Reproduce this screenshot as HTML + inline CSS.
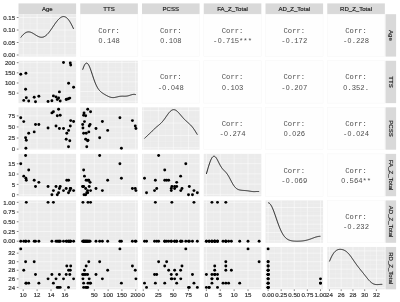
<!DOCTYPE html>
<html><head><meta charset="utf-8"><title>ggpairs</title>
<style>html,body{margin:0;padding:0;background:#fff}svg{display:block;filter:blur(0.3px)}</style>
</head><body>
<svg width="400" height="302" viewBox="0 0 400 302">
<rect width="400" height="302" fill="#fff"/>
<rect x="18.50" y="3.4" width="57.6" height="10.80" fill="#d9d9d9"/>
<text x="47.30" y="10.80" font-size="6.05" fill="#111" text-anchor="middle" font-family="Liberation Sans, Arial, sans-serif" stroke="#333" stroke-width="0.18">Age</text>
<rect x="80.25" y="3.4" width="57.6" height="10.80" fill="#d9d9d9"/>
<text x="109.05" y="10.80" font-size="6.05" fill="#111" text-anchor="middle" font-family="Liberation Sans, Arial, sans-serif" stroke="#333" stroke-width="0.18">TTS</text>
<rect x="142.00" y="3.4" width="57.6" height="10.80" fill="#d9d9d9"/>
<text x="170.80" y="10.80" font-size="6.05" fill="#111" text-anchor="middle" font-family="Liberation Sans, Arial, sans-serif" stroke="#333" stroke-width="0.18">PCSS</text>
<rect x="203.75" y="3.4" width="57.6" height="10.80" fill="#d9d9d9"/>
<text x="232.55" y="10.80" font-size="6.05" fill="#111" text-anchor="middle" font-family="Liberation Sans, Arial, sans-serif" stroke="#333" stroke-width="0.18">FA_Z_Total</text>
<rect x="265.50" y="3.4" width="57.6" height="10.80" fill="#d9d9d9"/>
<text x="294.30" y="10.80" font-size="6.05" fill="#111" text-anchor="middle" font-family="Liberation Sans, Arial, sans-serif" stroke="#333" stroke-width="0.18">AD_Z_Total</text>
<rect x="327.25" y="3.4" width="57.6" height="10.80" fill="#d9d9d9"/>
<text x="356.05" y="10.80" font-size="6.05" fill="#111" text-anchor="middle" font-family="Liberation Sans, Arial, sans-serif" stroke="#333" stroke-width="0.18">RD_Z_Total</text>
<rect x="385.5" y="14.20" width="10.60" height="42.4" fill="#d9d9d9"/>
<text transform="translate(388.80,35.40) rotate(90)" font-size="6.05" fill="#111" text-anchor="middle" font-family="Liberation Sans, Arial, sans-serif" stroke="#333" stroke-width="0.18">Age</text>
<rect x="385.5" y="60.75" width="10.60" height="42.4" fill="#d9d9d9"/>
<text transform="translate(388.80,81.95) rotate(90)" font-size="6.05" fill="#111" text-anchor="middle" font-family="Liberation Sans, Arial, sans-serif" stroke="#333" stroke-width="0.18">TTS</text>
<rect x="385.5" y="107.30" width="10.60" height="42.4" fill="#d9d9d9"/>
<text transform="translate(388.80,128.50) rotate(90)" font-size="6.05" fill="#111" text-anchor="middle" font-family="Liberation Sans, Arial, sans-serif" stroke="#333" stroke-width="0.18">PCSS</text>
<rect x="385.5" y="153.85" width="10.60" height="42.4" fill="#d9d9d9"/>
<text transform="translate(388.80,175.05) rotate(90)" font-size="6.05" fill="#111" text-anchor="middle" font-family="Liberation Sans, Arial, sans-serif" stroke="#333" stroke-width="0.18">FA_Z_Total</text>
<rect x="385.5" y="200.40" width="10.60" height="42.4" fill="#d9d9d9"/>
<text transform="translate(388.80,221.60) rotate(90)" font-size="6.05" fill="#111" text-anchor="middle" font-family="Liberation Sans, Arial, sans-serif" stroke="#333" stroke-width="0.18">AD_Z_Total</text>
<rect x="385.5" y="246.95" width="10.60" height="42.4" fill="#d9d9d9"/>
<text transform="translate(388.80,268.15) rotate(90)" font-size="6.05" fill="#111" text-anchor="middle" font-family="Liberation Sans, Arial, sans-serif" stroke="#333" stroke-width="0.18">RD_Z_Total</text>
<rect x="18.50" y="14.20" width="57.6" height="42.4" fill="#ebebeb"/>
<line x1="30.17" x2="30.17" y1="14.20" y2="56.60" stroke="#f5f5f5" stroke-width="0.3"/>
<line x1="44.07" x2="44.07" y1="14.20" y2="56.60" stroke="#f5f5f5" stroke-width="0.3"/>
<line x1="57.97" x2="57.97" y1="14.20" y2="56.60" stroke="#f5f5f5" stroke-width="0.3"/>
<line x1="71.86" x2="71.86" y1="14.20" y2="56.60" stroke="#f5f5f5" stroke-width="0.3"/>
<line x1="23.22" x2="23.22" y1="14.20" y2="56.60" stroke="#fff" stroke-width="0.5"/>
<line x1="37.12" x2="37.12" y1="14.20" y2="56.60" stroke="#fff" stroke-width="0.5"/>
<line x1="51.02" x2="51.02" y1="14.20" y2="56.60" stroke="#fff" stroke-width="0.5"/>
<line x1="64.91" x2="64.91" y1="14.20" y2="56.60" stroke="#fff" stroke-width="0.5"/>
<line x1="18.50" x2="76.10" y1="48.75" y2="48.75" stroke="#f5f5f5" stroke-width="0.3"/>
<line x1="18.50" x2="76.10" y1="36.25" y2="36.25" stroke="#f5f5f5" stroke-width="0.3"/>
<line x1="18.50" x2="76.10" y1="23.75" y2="23.75" stroke="#f5f5f5" stroke-width="0.3"/>
<line x1="18.50" x2="76.10" y1="55.00" y2="55.00" stroke="#fff" stroke-width="0.5"/>
<line x1="18.50" x2="76.10" y1="42.50" y2="42.50" stroke="#fff" stroke-width="0.5"/>
<line x1="18.50" x2="76.10" y1="30.00" y2="30.00" stroke="#fff" stroke-width="0.5"/>
<line x1="18.50" x2="76.10" y1="17.50" y2="17.50" stroke="#fff" stroke-width="0.5"/>
<polyline points="20.75,37.50 21.02,37.16 21.28,36.82 21.55,36.48 21.81,36.16 22.08,35.85 22.34,35.54 22.61,35.24 22.87,34.96 23.14,34.68 23.41,34.42 23.67,34.17 23.94,33.93 24.20,33.70 24.47,33.49 24.73,33.28 25.00,33.10 25.26,32.92 25.53,32.76 25.80,32.61 26.06,32.48 26.33,32.35 26.59,32.25 26.86,32.15 27.12,32.08 27.39,32.01 27.66,31.96 27.92,31.92 28.19,31.89 28.45,31.88 28.72,31.88 28.98,31.90 29.25,31.92 29.51,31.96 29.78,32.01 30.05,32.07 30.31,32.14 30.58,32.22 30.84,32.31 31.11,32.41 31.37,32.51 31.64,32.63 31.90,32.75 32.17,32.89 32.44,33.02 32.70,33.17 32.97,33.32 33.23,33.47 33.50,33.63 33.76,33.79 34.03,33.95 34.29,34.12 34.56,34.29 34.83,34.46 35.09,34.63 35.36,34.80 35.62,34.97 35.89,35.13 36.15,35.30 36.42,35.46 36.68,35.62 36.95,35.77 37.22,35.92 37.48,36.07 37.75,36.21 38.01,36.34 38.28,36.47 38.54,36.59 38.81,36.70 39.07,36.80 39.34,36.90 39.61,36.98 39.87,37.06 40.14,37.12 40.40,37.18 40.67,37.22 40.93,37.25 41.20,37.28 41.47,37.29 41.73,37.28 42.00,37.27 42.26,37.24 42.53,37.20 42.79,37.15 43.06,37.08 43.32,37.01 43.59,36.91 43.86,36.81 44.12,36.69 44.39,36.56 44.65,36.42 44.92,36.26 45.18,36.09 45.45,35.90 45.71,35.71 45.98,35.50 46.25,35.28 46.51,35.05 46.78,34.80 47.04,34.55 47.31,34.28 47.57,34.00 47.84,33.72 48.10,33.42 48.37,33.11 48.64,32.79 48.90,32.47 49.17,32.13 49.43,31.79 49.70,31.45 49.96,31.09 50.23,30.73 50.49,30.36 50.76,29.99 51.03,29.61 51.29,29.23 51.56,28.85 51.82,28.46 52.09,28.07 52.35,27.68 52.62,27.29 52.88,26.89 53.15,26.50 53.42,26.11 53.68,25.71 53.95,25.32 54.21,24.94 54.48,24.55 54.74,24.17 55.01,23.79 55.28,23.42 55.54,23.05 55.81,22.68 56.07,22.33 56.34,21.98 56.60,21.63 56.87,21.30 57.13,20.97 57.40,20.65 57.67,20.33 57.93,20.03 58.20,19.74 58.46,19.46 58.73,19.19 58.99,18.92 59.26,18.68 59.52,18.44 59.79,18.21 60.06,18.00 60.32,17.80 60.59,17.62 60.85,17.45 61.12,17.29 61.38,17.15 61.65,17.02 61.91,16.91 62.18,16.81 62.45,16.73 62.71,16.67 62.98,16.62 63.24,16.59 63.51,16.57 63.77,16.58 64.04,16.60 64.30,16.64 64.57,16.70 64.84,16.77 65.10,16.87 65.37,16.98 65.63,17.11 65.90,17.26 66.16,17.43 66.43,17.62 66.69,17.83 66.96,18.05 67.23,18.30 67.49,18.56 67.76,18.84 68.02,19.14 68.29,19.46 68.55,19.79 68.82,20.14 69.09,20.51 69.35,20.90 69.62,21.30 69.88,21.72 70.15,22.15 70.41,22.60 70.68,23.07 70.94,23.55 71.21,24.04 71.48,24.54 71.74,25.06 72.01,25.58 72.27,26.12 72.54,26.67 72.80,27.22 73.07,27.79 73.33,28.36 73.60,28.94" fill="none" stroke="#111" stroke-width="1" stroke-linejoin="round"/>
<rect x="80.25" y="14.20" width="57.6" height="42.4" fill="#fefefe" stroke="#f6f6f6" stroke-width="0.5"/>
<text x="109.05" y="32.90" font-size="7.2" fill="#4d4d4d" text-anchor="middle" font-family="Liberation Mono, Courier New, monospace">Corr:</text>
<text x="100.41 104.73 109.05 113.37 117.69" y="43.10" font-size="7.2" fill="#4d4d4d" text-anchor="middle" font-family="Liberation Mono, Courier New, monospace"><tspan font-family="Liberation Sans, Arial, sans-serif" font-size="7">0</tspan>.148</text>
<rect x="142.00" y="14.20" width="57.6" height="42.4" fill="#fefefe" stroke="#f6f6f6" stroke-width="0.5"/>
<text x="170.80" y="32.90" font-size="7.2" fill="#4d4d4d" text-anchor="middle" font-family="Liberation Mono, Courier New, monospace">Corr:</text>
<text x="162.16 166.48 170.80 175.12 179.44" y="43.10" font-size="7.2" fill="#4d4d4d" text-anchor="middle" font-family="Liberation Mono, Courier New, monospace"><tspan font-family="Liberation Sans, Arial, sans-serif" font-size="7">0</tspan>.1<tspan font-family="Liberation Sans, Arial, sans-serif" font-size="7">0</tspan>8</text>
<rect x="203.75" y="14.20" width="57.6" height="42.4" fill="#fefefe" stroke="#f6f6f6" stroke-width="0.5"/>
<text x="232.55" y="32.90" font-size="7.2" fill="#4d4d4d" text-anchor="middle" font-family="Liberation Mono, Courier New, monospace">Corr:</text>
<text x="215.27 219.59 223.91 228.23 232.55 236.87 241.19 245.51 249.83" y="43.10" font-size="7.2" fill="#4d4d4d" text-anchor="middle" font-family="Liberation Mono, Courier New, monospace">-<tspan font-family="Liberation Sans, Arial, sans-serif" font-size="7">0</tspan>.715***</text>
<rect x="265.50" y="14.20" width="57.6" height="42.4" fill="#fefefe" stroke="#f6f6f6" stroke-width="0.5"/>
<text x="294.30" y="32.90" font-size="7.2" fill="#4d4d4d" text-anchor="middle" font-family="Liberation Mono, Courier New, monospace">Corr:</text>
<text x="283.50 287.82 292.14 296.46 300.78 305.10" y="43.10" font-size="7.2" fill="#4d4d4d" text-anchor="middle" font-family="Liberation Mono, Courier New, monospace">-<tspan font-family="Liberation Sans, Arial, sans-serif" font-size="7">0</tspan>.172</text>
<rect x="327.25" y="14.20" width="57.6" height="42.4" fill="#fefefe" stroke="#f6f6f6" stroke-width="0.5"/>
<text x="356.05" y="32.90" font-size="7.2" fill="#4d4d4d" text-anchor="middle" font-family="Liberation Mono, Courier New, monospace">Corr:</text>
<text x="345.25 349.57 353.89 358.21 362.53 366.85" y="43.10" font-size="7.2" fill="#4d4d4d" text-anchor="middle" font-family="Liberation Mono, Courier New, monospace">-<tspan font-family="Liberation Sans, Arial, sans-serif" font-size="7">0</tspan>.228</text>
<rect x="18.50" y="60.75" width="57.6" height="42.4" fill="#ebebeb"/>
<line x1="30.17" x2="30.17" y1="60.75" y2="103.15" stroke="#f5f5f5" stroke-width="0.3"/>
<line x1="44.07" x2="44.07" y1="60.75" y2="103.15" stroke="#f5f5f5" stroke-width="0.3"/>
<line x1="57.97" x2="57.97" y1="60.75" y2="103.15" stroke="#f5f5f5" stroke-width="0.3"/>
<line x1="71.86" x2="71.86" y1="60.75" y2="103.15" stroke="#f5f5f5" stroke-width="0.3"/>
<line x1="23.22" x2="23.22" y1="60.75" y2="103.15" stroke="#fff" stroke-width="0.5"/>
<line x1="37.12" x2="37.12" y1="60.75" y2="103.15" stroke="#fff" stroke-width="0.5"/>
<line x1="51.02" x2="51.02" y1="60.75" y2="103.15" stroke="#fff" stroke-width="0.5"/>
<line x1="64.91" x2="64.91" y1="60.75" y2="103.15" stroke="#fff" stroke-width="0.5"/>
<line x1="18.50" x2="76.10" y1="98.18" y2="98.18" stroke="#f5f5f5" stroke-width="0.3"/>
<line x1="18.50" x2="76.10" y1="88.04" y2="88.04" stroke="#f5f5f5" stroke-width="0.3"/>
<line x1="18.50" x2="76.10" y1="77.89" y2="77.89" stroke="#f5f5f5" stroke-width="0.3"/>
<line x1="18.50" x2="76.10" y1="67.75" y2="67.75" stroke="#f5f5f5" stroke-width="0.3"/>
<line x1="18.50" x2="76.10" y1="93.11" y2="93.11" stroke="#fff" stroke-width="0.5"/>
<line x1="18.50" x2="76.10" y1="82.96" y2="82.96" stroke="#fff" stroke-width="0.5"/>
<line x1="18.50" x2="76.10" y1="72.82" y2="72.82" stroke="#fff" stroke-width="0.5"/>
<line x1="18.50" x2="76.10" y1="62.68" y2="62.68" stroke="#fff" stroke-width="0.5"/>
<circle cx="20.75" cy="74.30" r="1.45" fill="#000"/>
<circle cx="23.75" cy="100.40" r="1.45" fill="#000"/>
<circle cx="25.60" cy="89.20" r="1.45" fill="#000"/>
<circle cx="25.90" cy="73.20" r="1.45" fill="#000"/>
<circle cx="26.30" cy="97.80" r="1.45" fill="#000"/>
<circle cx="28.70" cy="101.00" r="1.45" fill="#000"/>
<circle cx="34.20" cy="97.20" r="1.45" fill="#000"/>
<circle cx="35.50" cy="101.70" r="1.45" fill="#000"/>
<circle cx="38.85" cy="96.26" r="1.45" fill="#000"/>
<circle cx="48.05" cy="101.50" r="1.45" fill="#000"/>
<circle cx="51.90" cy="100.70" r="1.45" fill="#000"/>
<circle cx="53.40" cy="95.90" r="1.45" fill="#000"/>
<circle cx="56.00" cy="96.90" r="1.45" fill="#000"/>
<circle cx="57.30" cy="99.50" r="1.45" fill="#000"/>
<circle cx="58.60" cy="98.00" r="1.45" fill="#000"/>
<circle cx="59.40" cy="91.90" r="1.45" fill="#000"/>
<circle cx="60.20" cy="101.00" r="1.45" fill="#000"/>
<circle cx="63.50" cy="62.50" r="1.45" fill="#000"/>
<circle cx="66.20" cy="99.50" r="1.45" fill="#000"/>
<circle cx="66.80" cy="99.14" r="1.45" fill="#000"/>
<circle cx="68.60" cy="83.30" r="1.45" fill="#000"/>
<circle cx="68.50" cy="98.70" r="1.45" fill="#000"/>
<circle cx="69.80" cy="98.10" r="1.45" fill="#000"/>
<circle cx="70.30" cy="63.00" r="1.45" fill="#000"/>
<circle cx="70.70" cy="65.10" r="1.45" fill="#000"/>
<circle cx="73.60" cy="87.20" r="1.45" fill="#000"/>
<rect x="80.25" y="60.75" width="57.6" height="42.4" fill="#ebebeb"/>
<line x1="87.46" x2="87.46" y1="60.75" y2="103.15" stroke="#f5f5f5" stroke-width="0.3"/>
<line x1="101.24" x2="101.24" y1="60.75" y2="103.15" stroke="#f5f5f5" stroke-width="0.3"/>
<line x1="115.02" x2="115.02" y1="60.75" y2="103.15" stroke="#f5f5f5" stroke-width="0.3"/>
<line x1="128.80" x2="128.80" y1="60.75" y2="103.15" stroke="#f5f5f5" stroke-width="0.3"/>
<line x1="94.35" x2="94.35" y1="60.75" y2="103.15" stroke="#fff" stroke-width="0.5"/>
<line x1="108.13" x2="108.13" y1="60.75" y2="103.15" stroke="#fff" stroke-width="0.5"/>
<line x1="121.91" x2="121.91" y1="60.75" y2="103.15" stroke="#fff" stroke-width="0.5"/>
<line x1="135.69" x2="135.69" y1="60.75" y2="103.15" stroke="#fff" stroke-width="0.5"/>
<line x1="80.25" x2="137.85" y1="101.22" y2="101.22" stroke="#fff" stroke-width="0.5"/>
<line x1="80.25" x2="137.85" y1="96.37" y2="96.37" stroke="#f5f5f5" stroke-width="0.3"/>
<line x1="80.25" x2="137.85" y1="91.53" y2="91.53" stroke="#fff" stroke-width="0.5"/>
<line x1="80.25" x2="137.85" y1="86.68" y2="86.68" stroke="#f5f5f5" stroke-width="0.3"/>
<line x1="80.25" x2="137.85" y1="81.83" y2="81.83" stroke="#fff" stroke-width="0.5"/>
<line x1="80.25" x2="137.85" y1="76.99" y2="76.99" stroke="#f5f5f5" stroke-width="0.3"/>
<line x1="80.25" x2="137.85" y1="72.14" y2="72.14" stroke="#fff" stroke-width="0.5"/>
<line x1="80.25" x2="137.85" y1="67.29" y2="67.29" stroke="#f5f5f5" stroke-width="0.3"/>
<line x1="80.25" x2="137.85" y1="62.44" y2="62.44" stroke="#fff" stroke-width="0.5"/>
<polyline points="82.68,69.66 82.95,68.85 83.22,68.08 83.48,67.35 83.75,66.68 84.02,66.05 84.29,65.48 84.55,64.97 84.82,64.51 85.09,64.12 85.36,63.79 85.62,63.53 85.89,63.33 86.16,63.19 86.43,63.13 86.69,63.12 86.96,63.19 87.23,63.32 87.50,63.51 87.77,63.76 88.03,64.07 88.30,64.44 88.57,64.87 88.84,65.34 89.10,65.87 89.37,66.44 89.64,67.05 89.91,67.70 90.17,68.38 90.44,69.09 90.71,69.83 90.98,70.60 91.24,71.38 91.51,72.17 91.78,72.98 92.05,73.79 92.31,74.61 92.58,75.43 92.85,76.25 93.12,77.05 93.38,77.85 93.65,78.64 93.92,79.41 94.19,80.17 94.46,80.91 94.72,81.63 94.99,82.33 95.26,83.00 95.53,83.65 95.79,84.28 96.06,84.88 96.33,85.46 96.60,86.01 96.86,86.53 97.13,87.03 97.40,87.51 97.67,87.96 97.93,88.39 98.20,88.79 98.47,89.18 98.74,89.54 99.00,89.89 99.27,90.21 99.54,90.52 99.81,90.81 100.07,91.08 100.34,91.35 100.61,91.59 100.88,91.83 101.15,92.06 101.41,92.27 101.68,92.48 101.95,92.68 102.22,92.87 102.48,93.06 102.75,93.24 103.02,93.42 103.29,93.59 103.55,93.76 103.82,93.93 104.09,94.09 104.36,94.25 104.62,94.41 104.89,94.57 105.16,94.72 105.43,94.88 105.69,95.03 105.96,95.18 106.23,95.32 106.50,95.47 106.76,95.61 107.03,95.76 107.30,95.89 107.57,96.03 107.84,96.16 108.10,96.29 108.37,96.41 108.64,96.54 108.91,96.65 109.17,96.76 109.44,96.87 109.71,96.96 109.98,97.06 110.24,97.14 110.51,97.22 110.78,97.30 111.05,97.36 111.31,97.42 111.58,97.47 111.85,97.51 112.12,97.54 112.38,97.56 112.65,97.58 112.92,97.59 113.19,97.59 113.45,97.58 113.72,97.57 113.99,97.55 114.26,97.52 114.53,97.48 114.79,97.44 115.06,97.40 115.33,97.34 115.60,97.29 115.86,97.23 116.13,97.17 116.40,97.10 116.67,97.04 116.93,96.97 117.20,96.90 117.47,96.83 117.74,96.77 118.00,96.70 118.27,96.64 118.54,96.58 118.81,96.52 119.07,96.47 119.34,96.42 119.61,96.37 119.88,96.33 120.14,96.30 120.41,96.27 120.68,96.24 120.95,96.22 121.22,96.20 121.48,96.19 121.75,96.18 122.02,96.18 122.29,96.17 122.55,96.17 122.82,96.18 123.09,96.18 123.36,96.19 123.62,96.20 123.89,96.20 124.16,96.21 124.43,96.21 124.69,96.21 124.96,96.21 125.23,96.20 125.50,96.19 125.76,96.18 126.03,96.16 126.30,96.13 126.57,96.10 126.83,96.07 127.10,96.03 127.37,95.98 127.64,95.92 127.91,95.86 128.17,95.80 128.44,95.73 128.71,95.65 128.98,95.57 129.24,95.49 129.51,95.41 129.78,95.32 130.05,95.23 130.31,95.14 130.58,95.05 130.85,94.96 131.12,94.88 131.38,94.80 131.65,94.72 131.92,94.65 132.19,94.58 132.45,94.52 132.72,94.47 132.99,94.43 133.26,94.40 133.53,94.37 133.79,94.36 134.06,94.36 134.33,94.37 134.60,94.39 134.86,94.43 135.13,94.47 135.40,94.53 135.67,94.61 135.93,94.69" fill="none" stroke="#111" stroke-width="1" stroke-linejoin="round"/>
<rect x="142.00" y="60.75" width="57.6" height="42.4" fill="#fefefe" stroke="#f6f6f6" stroke-width="0.5"/>
<text x="170.80" y="79.45" font-size="7.2" fill="#4d4d4d" text-anchor="middle" font-family="Liberation Mono, Courier New, monospace">Corr:</text>
<text x="160.00 164.32 168.64 172.96 177.28 181.60" y="89.65" font-size="7.2" fill="#4d4d4d" text-anchor="middle" font-family="Liberation Mono, Courier New, monospace">-<tspan font-family="Liberation Sans, Arial, sans-serif" font-size="7">0</tspan>.<tspan font-family="Liberation Sans, Arial, sans-serif" font-size="7">0</tspan>48</text>
<rect x="203.75" y="60.75" width="57.6" height="42.4" fill="#fefefe" stroke="#f6f6f6" stroke-width="0.5"/>
<text x="232.55" y="79.45" font-size="7.2" fill="#4d4d4d" text-anchor="middle" font-family="Liberation Mono, Courier New, monospace">Corr:</text>
<text x="223.91 228.23 232.55 236.87 241.19" y="89.65" font-size="7.2" fill="#4d4d4d" text-anchor="middle" font-family="Liberation Mono, Courier New, monospace"><tspan font-family="Liberation Sans, Arial, sans-serif" font-size="7">0</tspan>.1<tspan font-family="Liberation Sans, Arial, sans-serif" font-size="7">0</tspan>3</text>
<rect x="265.50" y="60.75" width="57.6" height="42.4" fill="#fefefe" stroke="#f6f6f6" stroke-width="0.5"/>
<text x="294.30" y="79.45" font-size="7.2" fill="#4d4d4d" text-anchor="middle" font-family="Liberation Mono, Courier New, monospace">Corr:</text>
<text x="283.50 287.82 292.14 296.46 300.78 305.10" y="89.65" font-size="7.2" fill="#4d4d4d" text-anchor="middle" font-family="Liberation Mono, Courier New, monospace">-<tspan font-family="Liberation Sans, Arial, sans-serif" font-size="7">0</tspan>.2<tspan font-family="Liberation Sans, Arial, sans-serif" font-size="7">0</tspan>7</text>
<rect x="327.25" y="60.75" width="57.6" height="42.4" fill="#fefefe" stroke="#f6f6f6" stroke-width="0.5"/>
<text x="356.05" y="79.45" font-size="7.2" fill="#4d4d4d" text-anchor="middle" font-family="Liberation Mono, Courier New, monospace">Corr:</text>
<text x="345.25 349.57 353.89 358.21 362.53 366.85" y="89.65" font-size="7.2" fill="#4d4d4d" text-anchor="middle" font-family="Liberation Mono, Courier New, monospace"><tspan font-family="Liberation Sans, Arial, sans-serif" font-size="7">0</tspan>.352.</text>
<rect x="18.50" y="107.30" width="57.6" height="42.4" fill="#ebebeb"/>
<line x1="30.17" x2="30.17" y1="107.30" y2="149.70" stroke="#f5f5f5" stroke-width="0.3"/>
<line x1="44.07" x2="44.07" y1="107.30" y2="149.70" stroke="#f5f5f5" stroke-width="0.3"/>
<line x1="57.97" x2="57.97" y1="107.30" y2="149.70" stroke="#f5f5f5" stroke-width="0.3"/>
<line x1="71.86" x2="71.86" y1="107.30" y2="149.70" stroke="#f5f5f5" stroke-width="0.3"/>
<line x1="23.22" x2="23.22" y1="107.30" y2="149.70" stroke="#fff" stroke-width="0.5"/>
<line x1="37.12" x2="37.12" y1="107.30" y2="149.70" stroke="#fff" stroke-width="0.5"/>
<line x1="51.02" x2="51.02" y1="107.30" y2="149.70" stroke="#fff" stroke-width="0.5"/>
<line x1="64.91" x2="64.91" y1="107.30" y2="149.70" stroke="#fff" stroke-width="0.5"/>
<line x1="18.50" x2="76.10" y1="143.56" y2="143.56" stroke="#f5f5f5" stroke-width="0.3"/>
<line x1="18.50" x2="76.10" y1="132.49" y2="132.49" stroke="#f5f5f5" stroke-width="0.3"/>
<line x1="18.50" x2="76.10" y1="121.41" y2="121.41" stroke="#f5f5f5" stroke-width="0.3"/>
<line x1="18.50" x2="76.10" y1="110.33" y2="110.33" stroke="#f5f5f5" stroke-width="0.3"/>
<line x1="18.50" x2="76.10" y1="149.10" y2="149.10" stroke="#fff" stroke-width="0.5"/>
<line x1="18.50" x2="76.10" y1="138.03" y2="138.03" stroke="#fff" stroke-width="0.5"/>
<line x1="18.50" x2="76.10" y1="126.95" y2="126.95" stroke="#fff" stroke-width="0.5"/>
<line x1="18.50" x2="76.10" y1="115.87" y2="115.87" stroke="#fff" stroke-width="0.5"/>
<circle cx="20.75" cy="117.80" r="1.45" fill="#000"/>
<circle cx="23.75" cy="121.60" r="1.45" fill="#000"/>
<circle cx="25.60" cy="137.80" r="1.45" fill="#000"/>
<circle cx="25.90" cy="148.20" r="1.45" fill="#000"/>
<circle cx="26.30" cy="140.20" r="1.45" fill="#000"/>
<circle cx="28.70" cy="133.30" r="1.45" fill="#000"/>
<circle cx="34.20" cy="131.90" r="1.45" fill="#000"/>
<circle cx="35.50" cy="124.50" r="1.45" fill="#000"/>
<circle cx="38.85" cy="124.50" r="1.45" fill="#000"/>
<circle cx="48.05" cy="128.05" r="1.45" fill="#000"/>
<circle cx="51.90" cy="112.90" r="1.45" fill="#000"/>
<circle cx="53.40" cy="111.80" r="1.45" fill="#000"/>
<circle cx="56.00" cy="126.00" r="1.45" fill="#000"/>
<circle cx="57.30" cy="115.80" r="1.45" fill="#000"/>
<circle cx="58.60" cy="109.30" r="1.45" fill="#000"/>
<circle cx="59.40" cy="128.50" r="1.45" fill="#000"/>
<circle cx="60.20" cy="115.20" r="1.45" fill="#000"/>
<circle cx="63.50" cy="128.50" r="1.45" fill="#000"/>
<circle cx="66.20" cy="139.20" r="1.45" fill="#000"/>
<circle cx="66.80" cy="133.30" r="1.45" fill="#000"/>
<circle cx="68.60" cy="130.40" r="1.45" fill="#000"/>
<circle cx="68.50" cy="146.70" r="1.45" fill="#000"/>
<circle cx="69.80" cy="140.80" r="1.45" fill="#000"/>
<circle cx="70.30" cy="126.00" r="1.45" fill="#000"/>
<circle cx="70.70" cy="120.60" r="1.45" fill="#000"/>
<circle cx="73.60" cy="121.50" r="1.45" fill="#000"/>
<rect x="80.25" y="107.30" width="57.6" height="42.4" fill="#ebebeb"/>
<line x1="87.46" x2="87.46" y1="107.30" y2="149.70" stroke="#f5f5f5" stroke-width="0.3"/>
<line x1="101.24" x2="101.24" y1="107.30" y2="149.70" stroke="#f5f5f5" stroke-width="0.3"/>
<line x1="115.02" x2="115.02" y1="107.30" y2="149.70" stroke="#f5f5f5" stroke-width="0.3"/>
<line x1="128.80" x2="128.80" y1="107.30" y2="149.70" stroke="#f5f5f5" stroke-width="0.3"/>
<line x1="94.35" x2="94.35" y1="107.30" y2="149.70" stroke="#fff" stroke-width="0.5"/>
<line x1="108.13" x2="108.13" y1="107.30" y2="149.70" stroke="#fff" stroke-width="0.5"/>
<line x1="121.91" x2="121.91" y1="107.30" y2="149.70" stroke="#fff" stroke-width="0.5"/>
<line x1="135.69" x2="135.69" y1="107.30" y2="149.70" stroke="#fff" stroke-width="0.5"/>
<line x1="80.25" x2="137.85" y1="143.56" y2="143.56" stroke="#f5f5f5" stroke-width="0.3"/>
<line x1="80.25" x2="137.85" y1="132.49" y2="132.49" stroke="#f5f5f5" stroke-width="0.3"/>
<line x1="80.25" x2="137.85" y1="121.41" y2="121.41" stroke="#f5f5f5" stroke-width="0.3"/>
<line x1="80.25" x2="137.85" y1="110.33" y2="110.33" stroke="#f5f5f5" stroke-width="0.3"/>
<line x1="80.25" x2="137.85" y1="149.10" y2="149.10" stroke="#fff" stroke-width="0.5"/>
<line x1="80.25" x2="137.85" y1="138.03" y2="138.03" stroke="#fff" stroke-width="0.5"/>
<line x1="80.25" x2="137.85" y1="126.95" y2="126.95" stroke="#fff" stroke-width="0.5"/>
<line x1="80.25" x2="137.85" y1="115.87" y2="115.87" stroke="#fff" stroke-width="0.5"/>
<circle cx="119.90" cy="117.80" r="1.45" fill="#000"/>
<circle cx="84.45" cy="121.60" r="1.45" fill="#000"/>
<circle cx="99.66" cy="137.80" r="1.45" fill="#000"/>
<circle cx="121.40" cy="148.20" r="1.45" fill="#000"/>
<circle cx="87.98" cy="140.20" r="1.45" fill="#000"/>
<circle cx="83.63" cy="133.30" r="1.45" fill="#000"/>
<circle cx="88.79" cy="131.90" r="1.45" fill="#000"/>
<circle cx="82.68" cy="124.50" r="1.45" fill="#000"/>
<circle cx="90.07" cy="124.50" r="1.45" fill="#000"/>
<circle cx="82.95" cy="128.05" r="1.45" fill="#000"/>
<circle cx="84.04" cy="112.90" r="1.45" fill="#000"/>
<circle cx="90.56" cy="111.80" r="1.45" fill="#000"/>
<circle cx="89.20" cy="126.00" r="1.45" fill="#000"/>
<circle cx="85.67" cy="115.80" r="1.45" fill="#000"/>
<circle cx="87.71" cy="109.30" r="1.45" fill="#000"/>
<circle cx="95.99" cy="128.50" r="1.45" fill="#000"/>
<circle cx="83.63" cy="115.20" r="1.45" fill="#000"/>
<circle cx="135.93" cy="128.50" r="1.45" fill="#000"/>
<circle cx="85.67" cy="139.20" r="1.45" fill="#000"/>
<circle cx="86.16" cy="133.30" r="1.45" fill="#000"/>
<circle cx="107.68" cy="130.40" r="1.45" fill="#000"/>
<circle cx="86.76" cy="146.70" r="1.45" fill="#000"/>
<circle cx="87.57" cy="140.80" r="1.45" fill="#000"/>
<circle cx="135.25" cy="126.00" r="1.45" fill="#000"/>
<circle cx="132.40" cy="120.60" r="1.45" fill="#000"/>
<circle cx="102.38" cy="121.50" r="1.45" fill="#000"/>
<rect x="142.00" y="107.30" width="57.6" height="42.4" fill="#ebebeb"/>
<line x1="150.80" x2="150.80" y1="107.30" y2="149.70" stroke="#f5f5f5" stroke-width="0.3"/>
<line x1="165.84" x2="165.84" y1="107.30" y2="149.70" stroke="#f5f5f5" stroke-width="0.3"/>
<line x1="180.89" x2="180.89" y1="107.30" y2="149.70" stroke="#f5f5f5" stroke-width="0.3"/>
<line x1="195.94" x2="195.94" y1="107.30" y2="149.70" stroke="#f5f5f5" stroke-width="0.3"/>
<line x1="143.27" x2="143.27" y1="107.30" y2="149.70" stroke="#fff" stroke-width="0.5"/>
<line x1="158.32" x2="158.32" y1="107.30" y2="149.70" stroke="#fff" stroke-width="0.5"/>
<line x1="173.37" x2="173.37" y1="107.30" y2="149.70" stroke="#fff" stroke-width="0.5"/>
<line x1="188.41" x2="188.41" y1="107.30" y2="149.70" stroke="#fff" stroke-width="0.5"/>
<line x1="142.00" x2="199.60" y1="147.77" y2="147.77" stroke="#fff" stroke-width="0.5"/>
<line x1="142.00" x2="199.60" y1="141.59" y2="141.59" stroke="#f5f5f5" stroke-width="0.3"/>
<line x1="142.00" x2="199.60" y1="135.41" y2="135.41" stroke="#fff" stroke-width="0.5"/>
<line x1="142.00" x2="199.60" y1="129.22" y2="129.22" stroke="#f5f5f5" stroke-width="0.3"/>
<line x1="142.00" x2="199.60" y1="123.04" y2="123.04" stroke="#fff" stroke-width="0.5"/>
<line x1="142.00" x2="199.60" y1="116.86" y2="116.86" stroke="#f5f5f5" stroke-width="0.3"/>
<line x1="142.00" x2="199.60" y1="110.68" y2="110.68" stroke="#fff" stroke-width="0.5"/>
<polyline points="144.50,138.39 144.76,138.13 145.03,137.88 145.30,137.63 145.56,137.38 145.83,137.13 146.09,136.88 146.36,136.64 146.62,136.39 146.89,136.14 147.15,135.90 147.42,135.65 147.69,135.40 147.95,135.16 148.22,134.91 148.48,134.66 148.75,134.41 149.01,134.16 149.28,133.90 149.54,133.65 149.81,133.39 150.08,133.13 150.34,132.87 150.61,132.61 150.87,132.35 151.14,132.09 151.40,131.82 151.67,131.56 151.93,131.29 152.20,131.03 152.47,130.77 152.73,130.50 153.00,130.24 153.26,129.98 153.53,129.72 153.79,129.47 154.06,129.21 154.32,128.96 154.59,128.71 154.86,128.47 155.12,128.23 155.39,127.99 155.65,127.75 155.92,127.52 156.18,127.29 156.45,127.06 156.71,126.84 156.98,126.62 157.25,126.40 157.51,126.18 157.78,125.96 158.04,125.74 158.31,125.52 158.57,125.31 158.84,125.09 159.10,124.86 159.37,124.64 159.64,124.41 159.90,124.17 160.17,123.93 160.43,123.69 160.70,123.44 160.96,123.18 161.23,122.92 161.49,122.64 161.76,122.36 162.03,122.08 162.29,121.78 162.56,121.47 162.82,121.16 163.09,120.84 163.35,120.51 163.62,120.17 163.88,119.83 164.15,119.47 164.42,119.11 164.68,118.75 164.95,118.38 165.21,118.00 165.48,117.63 165.74,117.24 166.01,116.86 166.27,116.48 166.54,116.09 166.81,115.71 167.07,115.33 167.34,114.96 167.60,114.59 167.87,114.22 168.13,113.86 168.40,113.51 168.66,113.17 168.93,112.84 169.20,112.53 169.46,112.22 169.73,111.93 169.99,111.65 170.26,111.39 170.52,111.14 170.79,110.91 171.05,110.70 171.32,110.51 171.59,110.34 171.85,110.18 172.12,110.05 172.38,109.93 172.65,109.84 172.91,109.77 173.18,109.72 173.44,109.68 173.71,109.67 173.98,109.68 174.24,109.72 174.51,109.77 174.77,109.84 175.04,109.93 175.30,110.04 175.57,110.16 175.83,110.31 176.10,110.47 176.37,110.65 176.63,110.84 176.90,111.05 177.16,111.27 177.43,111.51 177.69,111.76 177.96,112.02 178.22,112.29 178.49,112.57 178.76,112.85 179.02,113.15 179.29,113.45 179.55,113.75 179.82,114.06 180.08,114.38 180.35,114.69 180.61,115.01 180.88,115.33 181.15,115.64 181.41,115.96 181.68,116.28 181.94,116.59 182.21,116.90 182.47,117.21 182.74,117.51 183.00,117.81 183.27,118.11 183.54,118.40 183.80,118.69 184.07,118.97 184.33,119.24 184.60,119.51 184.86,119.78 185.13,120.04 185.39,120.29 185.66,120.54 185.92,120.79 186.19,121.03 186.46,121.27 186.72,121.51 186.99,121.74 187.25,121.98 187.52,122.21 187.78,122.44 188.05,122.68 188.31,122.91 188.58,123.14 188.85,123.38 189.11,123.62 189.38,123.87 189.64,124.12 189.91,124.37 190.17,124.63 190.44,124.90 190.70,125.17 190.97,125.45 191.24,125.74 191.50,126.04 191.77,126.34 192.03,126.66 192.30,126.98 192.56,127.31 192.83,127.65 193.09,128.01 193.36,128.37 193.63,128.73 193.89,129.11 194.16,129.50 194.42,129.89 194.69,130.30 194.95,130.71 195.22,131.13 195.48,131.55 195.75,131.98 196.02,132.42 196.28,132.86 196.55,133.30 196.81,133.75 197.08,134.20 197.34,134.65" fill="none" stroke="#111" stroke-width="1" stroke-linejoin="round"/>
<rect x="203.75" y="107.30" width="57.6" height="42.4" fill="#fefefe" stroke="#f6f6f6" stroke-width="0.5"/>
<text x="232.55" y="126.00" font-size="7.2" fill="#4d4d4d" text-anchor="middle" font-family="Liberation Mono, Courier New, monospace">Corr:</text>
<text x="221.75 226.07 230.39 234.71 239.03 243.35" y="136.20" font-size="7.2" fill="#4d4d4d" text-anchor="middle" font-family="Liberation Mono, Courier New, monospace">-<tspan font-family="Liberation Sans, Arial, sans-serif" font-size="7">0</tspan>.274</text>
<rect x="265.50" y="107.30" width="57.6" height="42.4" fill="#fefefe" stroke="#f6f6f6" stroke-width="0.5"/>
<text x="294.30" y="126.00" font-size="7.2" fill="#4d4d4d" text-anchor="middle" font-family="Liberation Mono, Courier New, monospace">Corr:</text>
<text x="285.66 289.98 294.30 298.62 302.94" y="136.20" font-size="7.2" fill="#4d4d4d" text-anchor="middle" font-family="Liberation Mono, Courier New, monospace"><tspan font-family="Liberation Sans, Arial, sans-serif" font-size="7">0</tspan>.<tspan font-family="Liberation Sans, Arial, sans-serif" font-size="7">0</tspan>26</text>
<rect x="327.25" y="107.30" width="57.6" height="42.4" fill="#fefefe" stroke="#f6f6f6" stroke-width="0.5"/>
<text x="356.05" y="126.00" font-size="7.2" fill="#4d4d4d" text-anchor="middle" font-family="Liberation Mono, Courier New, monospace">Corr:</text>
<text x="345.25 349.57 353.89 358.21 362.53 366.85" y="136.20" font-size="7.2" fill="#4d4d4d" text-anchor="middle" font-family="Liberation Mono, Courier New, monospace">-<tspan font-family="Liberation Sans, Arial, sans-serif" font-size="7">0</tspan>.<tspan font-family="Liberation Sans, Arial, sans-serif" font-size="7">0</tspan>24</text>
<rect x="18.50" y="153.85" width="57.6" height="42.4" fill="#ebebeb"/>
<line x1="30.17" x2="30.17" y1="153.85" y2="196.25" stroke="#f5f5f5" stroke-width="0.3"/>
<line x1="44.07" x2="44.07" y1="153.85" y2="196.25" stroke="#f5f5f5" stroke-width="0.3"/>
<line x1="57.97" x2="57.97" y1="153.85" y2="196.25" stroke="#f5f5f5" stroke-width="0.3"/>
<line x1="71.86" x2="71.86" y1="153.85" y2="196.25" stroke="#f5f5f5" stroke-width="0.3"/>
<line x1="23.22" x2="23.22" y1="153.85" y2="196.25" stroke="#fff" stroke-width="0.5"/>
<line x1="37.12" x2="37.12" y1="153.85" y2="196.25" stroke="#fff" stroke-width="0.5"/>
<line x1="51.02" x2="51.02" y1="153.85" y2="196.25" stroke="#fff" stroke-width="0.5"/>
<line x1="64.91" x2="64.91" y1="153.85" y2="196.25" stroke="#fff" stroke-width="0.5"/>
<line x1="18.50" x2="76.10" y1="189.58" y2="189.58" stroke="#f5f5f5" stroke-width="0.3"/>
<line x1="18.50" x2="76.10" y1="179.26" y2="179.26" stroke="#f5f5f5" stroke-width="0.3"/>
<line x1="18.50" x2="76.10" y1="168.93" y2="168.93" stroke="#f5f5f5" stroke-width="0.3"/>
<line x1="18.50" x2="76.10" y1="158.60" y2="158.60" stroke="#f5f5f5" stroke-width="0.3"/>
<line x1="18.50" x2="76.10" y1="194.75" y2="194.75" stroke="#fff" stroke-width="0.5"/>
<line x1="18.50" x2="76.10" y1="184.42" y2="184.42" stroke="#fff" stroke-width="0.5"/>
<line x1="18.50" x2="76.10" y1="174.09" y2="174.09" stroke="#fff" stroke-width="0.5"/>
<line x1="18.50" x2="76.10" y1="163.76" y2="163.76" stroke="#fff" stroke-width="0.5"/>
<circle cx="20.75" cy="163.76" r="1.45" fill="#000"/>
<circle cx="23.75" cy="176.16" r="1.45" fill="#000"/>
<circle cx="25.60" cy="155.50" r="1.45" fill="#000"/>
<circle cx="25.90" cy="178.22" r="1.45" fill="#000"/>
<circle cx="26.30" cy="180.29" r="1.45" fill="#000"/>
<circle cx="28.70" cy="169.96" r="1.45" fill="#000"/>
<circle cx="34.20" cy="180.29" r="1.45" fill="#000"/>
<circle cx="35.50" cy="186.49" r="1.45" fill="#000"/>
<circle cx="38.85" cy="182.36" r="1.45" fill="#000"/>
<circle cx="48.05" cy="186.49" r="1.45" fill="#000"/>
<circle cx="51.90" cy="194.75" r="1.45" fill="#000"/>
<circle cx="53.40" cy="190.62" r="1.45" fill="#000"/>
<circle cx="56.00" cy="186.49" r="1.45" fill="#000"/>
<circle cx="57.30" cy="194.75" r="1.45" fill="#000"/>
<circle cx="58.60" cy="192.68" r="1.45" fill="#000"/>
<circle cx="59.40" cy="188.55" r="1.45" fill="#000"/>
<circle cx="60.20" cy="186.49" r="1.45" fill="#000"/>
<circle cx="63.50" cy="190.62" r="1.45" fill="#000"/>
<circle cx="66.20" cy="188.55" r="1.45" fill="#000"/>
<circle cx="66.80" cy="180.29" r="1.45" fill="#000"/>
<circle cx="68.60" cy="180.29" r="1.45" fill="#000"/>
<circle cx="68.50" cy="192.68" r="1.45" fill="#000"/>
<circle cx="69.80" cy="190.62" r="1.45" fill="#000"/>
<circle cx="70.30" cy="188.55" r="1.45" fill="#000"/>
<circle cx="70.70" cy="188.55" r="1.45" fill="#000"/>
<circle cx="73.60" cy="190.62" r="1.45" fill="#000"/>
<rect x="80.25" y="153.85" width="57.6" height="42.4" fill="#ebebeb"/>
<line x1="87.46" x2="87.46" y1="153.85" y2="196.25" stroke="#f5f5f5" stroke-width="0.3"/>
<line x1="101.24" x2="101.24" y1="153.85" y2="196.25" stroke="#f5f5f5" stroke-width="0.3"/>
<line x1="115.02" x2="115.02" y1="153.85" y2="196.25" stroke="#f5f5f5" stroke-width="0.3"/>
<line x1="128.80" x2="128.80" y1="153.85" y2="196.25" stroke="#f5f5f5" stroke-width="0.3"/>
<line x1="94.35" x2="94.35" y1="153.85" y2="196.25" stroke="#fff" stroke-width="0.5"/>
<line x1="108.13" x2="108.13" y1="153.85" y2="196.25" stroke="#fff" stroke-width="0.5"/>
<line x1="121.91" x2="121.91" y1="153.85" y2="196.25" stroke="#fff" stroke-width="0.5"/>
<line x1="135.69" x2="135.69" y1="153.85" y2="196.25" stroke="#fff" stroke-width="0.5"/>
<line x1="80.25" x2="137.85" y1="189.58" y2="189.58" stroke="#f5f5f5" stroke-width="0.3"/>
<line x1="80.25" x2="137.85" y1="179.26" y2="179.26" stroke="#f5f5f5" stroke-width="0.3"/>
<line x1="80.25" x2="137.85" y1="168.93" y2="168.93" stroke="#f5f5f5" stroke-width="0.3"/>
<line x1="80.25" x2="137.85" y1="158.60" y2="158.60" stroke="#f5f5f5" stroke-width="0.3"/>
<line x1="80.25" x2="137.85" y1="194.75" y2="194.75" stroke="#fff" stroke-width="0.5"/>
<line x1="80.25" x2="137.85" y1="184.42" y2="184.42" stroke="#fff" stroke-width="0.5"/>
<line x1="80.25" x2="137.85" y1="174.09" y2="174.09" stroke="#fff" stroke-width="0.5"/>
<line x1="80.25" x2="137.85" y1="163.76" y2="163.76" stroke="#fff" stroke-width="0.5"/>
<circle cx="119.90" cy="163.76" r="1.45" fill="#000"/>
<circle cx="84.45" cy="176.16" r="1.45" fill="#000"/>
<circle cx="99.66" cy="155.50" r="1.45" fill="#000"/>
<circle cx="121.40" cy="178.22" r="1.45" fill="#000"/>
<circle cx="87.98" cy="180.29" r="1.45" fill="#000"/>
<circle cx="83.63" cy="169.96" r="1.45" fill="#000"/>
<circle cx="88.79" cy="180.29" r="1.45" fill="#000"/>
<circle cx="82.68" cy="186.49" r="1.45" fill="#000"/>
<circle cx="90.07" cy="182.36" r="1.45" fill="#000"/>
<circle cx="82.95" cy="186.49" r="1.45" fill="#000"/>
<circle cx="84.04" cy="194.75" r="1.45" fill="#000"/>
<circle cx="90.56" cy="190.62" r="1.45" fill="#000"/>
<circle cx="89.20" cy="186.49" r="1.45" fill="#000"/>
<circle cx="85.67" cy="194.75" r="1.45" fill="#000"/>
<circle cx="87.71" cy="192.68" r="1.45" fill="#000"/>
<circle cx="95.99" cy="188.55" r="1.45" fill="#000"/>
<circle cx="83.63" cy="186.49" r="1.45" fill="#000"/>
<circle cx="135.93" cy="190.62" r="1.45" fill="#000"/>
<circle cx="85.67" cy="188.55" r="1.45" fill="#000"/>
<circle cx="86.16" cy="180.29" r="1.45" fill="#000"/>
<circle cx="107.68" cy="180.29" r="1.45" fill="#000"/>
<circle cx="86.76" cy="192.68" r="1.45" fill="#000"/>
<circle cx="87.57" cy="190.62" r="1.45" fill="#000"/>
<circle cx="135.25" cy="188.55" r="1.45" fill="#000"/>
<circle cx="132.40" cy="188.55" r="1.45" fill="#000"/>
<circle cx="102.38" cy="190.62" r="1.45" fill="#000"/>
<rect x="142.00" y="153.85" width="57.6" height="42.4" fill="#ebebeb"/>
<line x1="150.80" x2="150.80" y1="153.85" y2="196.25" stroke="#f5f5f5" stroke-width="0.3"/>
<line x1="165.84" x2="165.84" y1="153.85" y2="196.25" stroke="#f5f5f5" stroke-width="0.3"/>
<line x1="180.89" x2="180.89" y1="153.85" y2="196.25" stroke="#f5f5f5" stroke-width="0.3"/>
<line x1="195.94" x2="195.94" y1="153.85" y2="196.25" stroke="#f5f5f5" stroke-width="0.3"/>
<line x1="143.27" x2="143.27" y1="153.85" y2="196.25" stroke="#fff" stroke-width="0.5"/>
<line x1="158.32" x2="158.32" y1="153.85" y2="196.25" stroke="#fff" stroke-width="0.5"/>
<line x1="173.37" x2="173.37" y1="153.85" y2="196.25" stroke="#fff" stroke-width="0.5"/>
<line x1="188.41" x2="188.41" y1="153.85" y2="196.25" stroke="#fff" stroke-width="0.5"/>
<line x1="142.00" x2="199.60" y1="189.58" y2="189.58" stroke="#f5f5f5" stroke-width="0.3"/>
<line x1="142.00" x2="199.60" y1="179.26" y2="179.26" stroke="#f5f5f5" stroke-width="0.3"/>
<line x1="142.00" x2="199.60" y1="168.93" y2="168.93" stroke="#f5f5f5" stroke-width="0.3"/>
<line x1="142.00" x2="199.60" y1="158.60" y2="158.60" stroke="#f5f5f5" stroke-width="0.3"/>
<line x1="142.00" x2="199.60" y1="194.75" y2="194.75" stroke="#fff" stroke-width="0.5"/>
<line x1="142.00" x2="199.60" y1="184.42" y2="184.42" stroke="#fff" stroke-width="0.5"/>
<line x1="142.00" x2="199.60" y1="174.09" y2="174.09" stroke="#fff" stroke-width="0.5"/>
<line x1="142.00" x2="199.60" y1="163.76" y2="163.76" stroke="#fff" stroke-width="0.5"/>
<circle cx="185.80" cy="163.76" r="1.45" fill="#000"/>
<circle cx="180.63" cy="176.16" r="1.45" fill="#000"/>
<circle cx="158.63" cy="155.50" r="1.45" fill="#000"/>
<circle cx="144.50" cy="178.22" r="1.45" fill="#000"/>
<circle cx="155.37" cy="180.29" r="1.45" fill="#000"/>
<circle cx="164.74" cy="169.96" r="1.45" fill="#000"/>
<circle cx="166.64" cy="180.29" r="1.45" fill="#000"/>
<circle cx="176.69" cy="186.49" r="1.45" fill="#000"/>
<circle cx="176.69" cy="182.36" r="1.45" fill="#000"/>
<circle cx="171.87" cy="186.49" r="1.45" fill="#000"/>
<circle cx="192.45" cy="194.75" r="1.45" fill="#000"/>
<circle cx="193.95" cy="190.62" r="1.45" fill="#000"/>
<circle cx="174.66" cy="186.49" r="1.45" fill="#000"/>
<circle cx="188.51" cy="194.75" r="1.45" fill="#000"/>
<circle cx="197.34" cy="192.68" r="1.45" fill="#000"/>
<circle cx="171.26" cy="188.55" r="1.45" fill="#000"/>
<circle cx="189.33" cy="186.49" r="1.45" fill="#000"/>
<circle cx="171.26" cy="190.62" r="1.45" fill="#000"/>
<circle cx="156.72" cy="188.55" r="1.45" fill="#000"/>
<circle cx="164.74" cy="180.29" r="1.45" fill="#000"/>
<circle cx="168.68" cy="180.29" r="1.45" fill="#000"/>
<circle cx="146.54" cy="192.68" r="1.45" fill="#000"/>
<circle cx="154.55" cy="190.62" r="1.45" fill="#000"/>
<circle cx="174.66" cy="188.55" r="1.45" fill="#000"/>
<circle cx="181.99" cy="188.55" r="1.45" fill="#000"/>
<circle cx="180.77" cy="190.62" r="1.45" fill="#000"/>
<rect x="203.75" y="153.85" width="57.6" height="42.4" fill="#ebebeb"/>
<line x1="213.33" x2="213.33" y1="153.85" y2="196.25" stroke="#f5f5f5" stroke-width="0.3"/>
<line x1="227.21" x2="227.21" y1="153.85" y2="196.25" stroke="#f5f5f5" stroke-width="0.3"/>
<line x1="241.09" x2="241.09" y1="153.85" y2="196.25" stroke="#f5f5f5" stroke-width="0.3"/>
<line x1="254.97" x2="254.97" y1="153.85" y2="196.25" stroke="#f5f5f5" stroke-width="0.3"/>
<line x1="206.39" x2="206.39" y1="153.85" y2="196.25" stroke="#fff" stroke-width="0.5"/>
<line x1="220.27" x2="220.27" y1="153.85" y2="196.25" stroke="#fff" stroke-width="0.5"/>
<line x1="234.15" x2="234.15" y1="153.85" y2="196.25" stroke="#fff" stroke-width="0.5"/>
<line x1="248.03" x2="248.03" y1="153.85" y2="196.25" stroke="#fff" stroke-width="0.5"/>
<line x1="203.75" x2="261.35" y1="194.32" y2="194.32" stroke="#fff" stroke-width="0.5"/>
<line x1="203.75" x2="261.35" y1="189.21" y2="189.21" stroke="#f5f5f5" stroke-width="0.3"/>
<line x1="203.75" x2="261.35" y1="184.10" y2="184.10" stroke="#fff" stroke-width="0.5"/>
<line x1="203.75" x2="261.35" y1="178.99" y2="178.99" stroke="#f5f5f5" stroke-width="0.3"/>
<line x1="203.75" x2="261.35" y1="173.88" y2="173.88" stroke="#fff" stroke-width="0.5"/>
<line x1="203.75" x2="261.35" y1="168.77" y2="168.77" stroke="#f5f5f5" stroke-width="0.3"/>
<line x1="203.75" x2="261.35" y1="163.66" y2="163.66" stroke="#fff" stroke-width="0.5"/>
<line x1="203.75" x2="261.35" y1="158.55" y2="158.55" stroke="#f5f5f5" stroke-width="0.3"/>
<polyline points="206.39,173.86 206.65,172.94 206.92,172.02 207.18,171.10 207.45,170.19 207.71,169.28 207.98,168.37 208.24,167.48 208.51,166.60 208.77,165.74 209.04,164.91 209.30,164.09 209.57,163.30 209.83,162.54 210.10,161.81 210.36,161.11 210.63,160.46 210.89,159.84 211.16,159.26 211.42,158.73 211.69,158.25 211.95,157.81 212.22,157.43 212.48,157.10 212.75,156.82 213.01,156.59 213.28,156.42 213.54,156.30 213.81,156.24 214.07,156.22 214.34,156.27 214.60,156.36 214.87,156.50 215.13,156.69 215.40,156.93 215.66,157.21 215.93,157.53 216.19,157.89 216.46,158.28 216.72,158.70 216.99,159.15 217.25,159.62 217.52,160.11 217.78,160.62 218.05,161.14 218.31,161.66 218.58,162.19 218.84,162.72 219.11,163.25 219.37,163.77 219.64,164.28 219.90,164.78 220.17,165.27 220.43,165.74 220.70,166.19 220.96,166.63 221.23,167.05 221.49,167.44 221.76,167.82 222.02,168.18 222.29,168.53 222.55,168.85 222.82,169.16 223.08,169.46 223.35,169.75 223.61,170.03 223.88,170.30 224.14,170.56 224.41,170.83 224.67,171.09 224.94,171.36 225.20,171.63 225.47,171.91 225.73,172.20 226.00,172.50 226.26,172.81 226.53,173.13 226.79,173.47 227.06,173.83 227.32,174.20 227.59,174.59 227.86,174.99 228.12,175.41 228.39,175.85 228.65,176.30 228.92,176.76 229.18,177.24 229.45,177.72 229.71,178.22 229.98,178.72 230.24,179.23 230.51,179.74 230.77,180.25 231.04,180.76 231.30,181.27 231.57,181.77 231.83,182.26 232.10,182.75 232.36,183.23 232.63,183.69 232.89,184.14 233.16,184.58 233.42,185.00 233.69,185.40 233.95,185.79 234.22,186.16 234.48,186.50 234.75,186.83 235.01,187.14 235.28,187.44 235.54,187.71 235.81,187.96 236.07,188.20 236.34,188.41 236.60,188.61 236.87,188.80 237.13,188.97 237.40,189.12 237.66,189.26 237.93,189.39 238.19,189.50 238.46,189.61 238.72,189.70 238.99,189.79 239.25,189.86 239.52,189.93 239.78,189.99 240.05,190.05 240.31,190.10 240.58,190.14 240.84,190.18 241.11,190.22 241.37,190.25 241.64,190.28 241.90,190.31 242.17,190.33 242.43,190.36 242.70,190.38 242.96,190.40 243.23,190.42 243.49,190.44 243.76,190.46 244.02,190.47 244.29,190.49 244.55,190.51 244.82,190.53 245.08,190.55 245.35,190.57 245.61,190.59 245.88,190.61 246.14,190.64 246.41,190.66 246.67,190.69 246.94,190.72 247.20,190.75 247.47,190.79 247.73,190.82 248.00,190.86 248.26,190.90 248.53,190.94 248.79,190.98 249.06,191.03 249.32,191.07 249.59,191.12 249.85,191.16 250.12,191.21 250.38,191.25 250.65,191.30 250.91,191.34 251.18,191.38 251.44,191.42 251.71,191.45 251.97,191.49 252.24,191.52 252.50,191.54 252.77,191.56 253.03,191.58 253.30,191.60 253.56,191.61 253.83,191.61 254.09,191.61 254.36,191.61 254.62,191.61 254.89,191.60 255.15,191.59 255.42,191.58 255.68,191.57 255.95,191.55 256.21,191.54 256.48,191.53 256.74,191.51 257.01,191.50 257.27,191.50 257.54,191.49 257.80,191.49 258.07,191.49 258.33,191.50 258.60,191.52 258.86,191.53 259.13,191.56" fill="none" stroke="#111" stroke-width="1" stroke-linejoin="round"/>
<rect x="265.50" y="153.85" width="57.6" height="42.4" fill="#fefefe" stroke="#f6f6f6" stroke-width="0.5"/>
<text x="294.30" y="172.55" font-size="7.2" fill="#4d4d4d" text-anchor="middle" font-family="Liberation Mono, Courier New, monospace">Corr:</text>
<text x="283.50 287.82 292.14 296.46 300.78 305.10" y="182.75" font-size="7.2" fill="#4d4d4d" text-anchor="middle" font-family="Liberation Mono, Courier New, monospace">-<tspan font-family="Liberation Sans, Arial, sans-serif" font-size="7">0</tspan>.<tspan font-family="Liberation Sans, Arial, sans-serif" font-size="7">0</tspan>69</text>
<rect x="327.25" y="153.85" width="57.6" height="42.4" fill="#fefefe" stroke="#f6f6f6" stroke-width="0.5"/>
<text x="356.05" y="172.55" font-size="7.2" fill="#4d4d4d" text-anchor="middle" font-family="Liberation Mono, Courier New, monospace">Corr:</text>
<text x="343.09 347.41 351.73 356.05 360.37 364.69 369.01" y="182.75" font-size="7.2" fill="#4d4d4d" text-anchor="middle" font-family="Liberation Mono, Courier New, monospace"><tspan font-family="Liberation Sans, Arial, sans-serif" font-size="7">0</tspan>.564**</text>
<rect x="18.50" y="200.40" width="57.6" height="42.4" fill="#ebebeb"/>
<line x1="30.17" x2="30.17" y1="200.40" y2="242.80" stroke="#f5f5f5" stroke-width="0.3"/>
<line x1="44.07" x2="44.07" y1="200.40" y2="242.80" stroke="#f5f5f5" stroke-width="0.3"/>
<line x1="57.97" x2="57.97" y1="200.40" y2="242.80" stroke="#f5f5f5" stroke-width="0.3"/>
<line x1="71.86" x2="71.86" y1="200.40" y2="242.80" stroke="#f5f5f5" stroke-width="0.3"/>
<line x1="23.22" x2="23.22" y1="200.40" y2="242.80" stroke="#fff" stroke-width="0.5"/>
<line x1="37.12" x2="37.12" y1="200.40" y2="242.80" stroke="#fff" stroke-width="0.5"/>
<line x1="51.02" x2="51.02" y1="200.40" y2="242.80" stroke="#fff" stroke-width="0.5"/>
<line x1="64.91" x2="64.91" y1="200.40" y2="242.80" stroke="#fff" stroke-width="0.5"/>
<line x1="18.50" x2="76.10" y1="236.33" y2="236.33" stroke="#f5f5f5" stroke-width="0.3"/>
<line x1="18.50" x2="76.10" y1="226.62" y2="226.62" stroke="#f5f5f5" stroke-width="0.3"/>
<line x1="18.50" x2="76.10" y1="216.90" y2="216.90" stroke="#f5f5f5" stroke-width="0.3"/>
<line x1="18.50" x2="76.10" y1="207.19" y2="207.19" stroke="#f5f5f5" stroke-width="0.3"/>
<line x1="18.50" x2="76.10" y1="241.19" y2="241.19" stroke="#fff" stroke-width="0.5"/>
<line x1="18.50" x2="76.10" y1="231.48" y2="231.48" stroke="#fff" stroke-width="0.5"/>
<line x1="18.50" x2="76.10" y1="221.76" y2="221.76" stroke="#fff" stroke-width="0.5"/>
<line x1="18.50" x2="76.10" y1="212.04" y2="212.04" stroke="#fff" stroke-width="0.5"/>
<line x1="18.50" x2="76.10" y1="202.33" y2="202.33" stroke="#fff" stroke-width="0.5"/>
<circle cx="20.75" cy="241.19" r="1.45" fill="#000"/>
<circle cx="23.75" cy="241.19" r="1.45" fill="#000"/>
<circle cx="25.60" cy="241.19" r="1.45" fill="#000"/>
<circle cx="25.90" cy="241.19" r="1.45" fill="#000"/>
<circle cx="26.30" cy="202.33" r="1.45" fill="#000"/>
<circle cx="28.70" cy="241.19" r="1.45" fill="#000"/>
<circle cx="34.20" cy="241.19" r="1.45" fill="#000"/>
<circle cx="35.50" cy="241.19" r="1.45" fill="#000"/>
<circle cx="38.85" cy="241.19" r="1.45" fill="#000"/>
<circle cx="48.05" cy="202.33" r="1.45" fill="#000"/>
<circle cx="51.90" cy="241.19" r="1.45" fill="#000"/>
<circle cx="53.40" cy="202.33" r="1.45" fill="#000"/>
<circle cx="56.00" cy="241.19" r="1.45" fill="#000"/>
<circle cx="57.30" cy="241.19" r="1.45" fill="#000"/>
<circle cx="58.60" cy="241.19" r="1.45" fill="#000"/>
<circle cx="59.40" cy="241.19" r="1.45" fill="#000"/>
<circle cx="60.20" cy="241.19" r="1.45" fill="#000"/>
<circle cx="63.50" cy="241.19" r="1.45" fill="#000"/>
<circle cx="66.20" cy="241.19" r="1.45" fill="#000"/>
<circle cx="66.80" cy="241.19" r="1.45" fill="#000"/>
<circle cx="68.60" cy="241.19" r="1.45" fill="#000"/>
<circle cx="68.50" cy="241.19" r="1.45" fill="#000"/>
<circle cx="69.80" cy="241.19" r="1.45" fill="#000"/>
<circle cx="70.30" cy="241.19" r="1.45" fill="#000"/>
<circle cx="70.70" cy="241.19" r="1.45" fill="#000"/>
<circle cx="73.60" cy="241.19" r="1.45" fill="#000"/>
<rect x="80.25" y="200.40" width="57.6" height="42.4" fill="#ebebeb"/>
<line x1="87.46" x2="87.46" y1="200.40" y2="242.80" stroke="#f5f5f5" stroke-width="0.3"/>
<line x1="101.24" x2="101.24" y1="200.40" y2="242.80" stroke="#f5f5f5" stroke-width="0.3"/>
<line x1="115.02" x2="115.02" y1="200.40" y2="242.80" stroke="#f5f5f5" stroke-width="0.3"/>
<line x1="128.80" x2="128.80" y1="200.40" y2="242.80" stroke="#f5f5f5" stroke-width="0.3"/>
<line x1="94.35" x2="94.35" y1="200.40" y2="242.80" stroke="#fff" stroke-width="0.5"/>
<line x1="108.13" x2="108.13" y1="200.40" y2="242.80" stroke="#fff" stroke-width="0.5"/>
<line x1="121.91" x2="121.91" y1="200.40" y2="242.80" stroke="#fff" stroke-width="0.5"/>
<line x1="135.69" x2="135.69" y1="200.40" y2="242.80" stroke="#fff" stroke-width="0.5"/>
<line x1="80.25" x2="137.85" y1="236.33" y2="236.33" stroke="#f5f5f5" stroke-width="0.3"/>
<line x1="80.25" x2="137.85" y1="226.62" y2="226.62" stroke="#f5f5f5" stroke-width="0.3"/>
<line x1="80.25" x2="137.85" y1="216.90" y2="216.90" stroke="#f5f5f5" stroke-width="0.3"/>
<line x1="80.25" x2="137.85" y1="207.19" y2="207.19" stroke="#f5f5f5" stroke-width="0.3"/>
<line x1="80.25" x2="137.85" y1="241.19" y2="241.19" stroke="#fff" stroke-width="0.5"/>
<line x1="80.25" x2="137.85" y1="231.48" y2="231.48" stroke="#fff" stroke-width="0.5"/>
<line x1="80.25" x2="137.85" y1="221.76" y2="221.76" stroke="#fff" stroke-width="0.5"/>
<line x1="80.25" x2="137.85" y1="212.04" y2="212.04" stroke="#fff" stroke-width="0.5"/>
<line x1="80.25" x2="137.85" y1="202.33" y2="202.33" stroke="#fff" stroke-width="0.5"/>
<circle cx="119.90" cy="241.19" r="1.45" fill="#000"/>
<circle cx="84.45" cy="241.19" r="1.45" fill="#000"/>
<circle cx="99.66" cy="241.19" r="1.45" fill="#000"/>
<circle cx="121.40" cy="241.19" r="1.45" fill="#000"/>
<circle cx="87.98" cy="202.33" r="1.45" fill="#000"/>
<circle cx="83.63" cy="241.19" r="1.45" fill="#000"/>
<circle cx="88.79" cy="241.19" r="1.45" fill="#000"/>
<circle cx="82.68" cy="241.19" r="1.45" fill="#000"/>
<circle cx="90.07" cy="241.19" r="1.45" fill="#000"/>
<circle cx="82.95" cy="202.33" r="1.45" fill="#000"/>
<circle cx="84.04" cy="241.19" r="1.45" fill="#000"/>
<circle cx="90.56" cy="202.33" r="1.45" fill="#000"/>
<circle cx="89.20" cy="241.19" r="1.45" fill="#000"/>
<circle cx="85.67" cy="241.19" r="1.45" fill="#000"/>
<circle cx="87.71" cy="241.19" r="1.45" fill="#000"/>
<circle cx="95.99" cy="241.19" r="1.45" fill="#000"/>
<circle cx="83.63" cy="241.19" r="1.45" fill="#000"/>
<circle cx="135.93" cy="241.19" r="1.45" fill="#000"/>
<circle cx="85.67" cy="241.19" r="1.45" fill="#000"/>
<circle cx="86.16" cy="241.19" r="1.45" fill="#000"/>
<circle cx="107.68" cy="241.19" r="1.45" fill="#000"/>
<circle cx="86.76" cy="241.19" r="1.45" fill="#000"/>
<circle cx="87.57" cy="241.19" r="1.45" fill="#000"/>
<circle cx="135.25" cy="241.19" r="1.45" fill="#000"/>
<circle cx="132.40" cy="241.19" r="1.45" fill="#000"/>
<circle cx="102.38" cy="241.19" r="1.45" fill="#000"/>
<rect x="142.00" y="200.40" width="57.6" height="42.4" fill="#ebebeb"/>
<line x1="150.80" x2="150.80" y1="200.40" y2="242.80" stroke="#f5f5f5" stroke-width="0.3"/>
<line x1="165.84" x2="165.84" y1="200.40" y2="242.80" stroke="#f5f5f5" stroke-width="0.3"/>
<line x1="180.89" x2="180.89" y1="200.40" y2="242.80" stroke="#f5f5f5" stroke-width="0.3"/>
<line x1="195.94" x2="195.94" y1="200.40" y2="242.80" stroke="#f5f5f5" stroke-width="0.3"/>
<line x1="143.27" x2="143.27" y1="200.40" y2="242.80" stroke="#fff" stroke-width="0.5"/>
<line x1="158.32" x2="158.32" y1="200.40" y2="242.80" stroke="#fff" stroke-width="0.5"/>
<line x1="173.37" x2="173.37" y1="200.40" y2="242.80" stroke="#fff" stroke-width="0.5"/>
<line x1="188.41" x2="188.41" y1="200.40" y2="242.80" stroke="#fff" stroke-width="0.5"/>
<line x1="142.00" x2="199.60" y1="236.33" y2="236.33" stroke="#f5f5f5" stroke-width="0.3"/>
<line x1="142.00" x2="199.60" y1="226.62" y2="226.62" stroke="#f5f5f5" stroke-width="0.3"/>
<line x1="142.00" x2="199.60" y1="216.90" y2="216.90" stroke="#f5f5f5" stroke-width="0.3"/>
<line x1="142.00" x2="199.60" y1="207.19" y2="207.19" stroke="#f5f5f5" stroke-width="0.3"/>
<line x1="142.00" x2="199.60" y1="241.19" y2="241.19" stroke="#fff" stroke-width="0.5"/>
<line x1="142.00" x2="199.60" y1="231.48" y2="231.48" stroke="#fff" stroke-width="0.5"/>
<line x1="142.00" x2="199.60" y1="221.76" y2="221.76" stroke="#fff" stroke-width="0.5"/>
<line x1="142.00" x2="199.60" y1="212.04" y2="212.04" stroke="#fff" stroke-width="0.5"/>
<line x1="142.00" x2="199.60" y1="202.33" y2="202.33" stroke="#fff" stroke-width="0.5"/>
<circle cx="185.80" cy="241.19" r="1.45" fill="#000"/>
<circle cx="180.63" cy="241.19" r="1.45" fill="#000"/>
<circle cx="158.63" cy="241.19" r="1.45" fill="#000"/>
<circle cx="144.50" cy="241.19" r="1.45" fill="#000"/>
<circle cx="155.37" cy="202.33" r="1.45" fill="#000"/>
<circle cx="164.74" cy="241.19" r="1.45" fill="#000"/>
<circle cx="166.64" cy="241.19" r="1.45" fill="#000"/>
<circle cx="176.69" cy="241.19" r="1.45" fill="#000"/>
<circle cx="176.69" cy="241.19" r="1.45" fill="#000"/>
<circle cx="171.87" cy="202.33" r="1.45" fill="#000"/>
<circle cx="192.45" cy="241.19" r="1.45" fill="#000"/>
<circle cx="193.95" cy="202.33" r="1.45" fill="#000"/>
<circle cx="174.66" cy="241.19" r="1.45" fill="#000"/>
<circle cx="188.51" cy="241.19" r="1.45" fill="#000"/>
<circle cx="197.34" cy="241.19" r="1.45" fill="#000"/>
<circle cx="171.26" cy="241.19" r="1.45" fill="#000"/>
<circle cx="189.33" cy="241.19" r="1.45" fill="#000"/>
<circle cx="171.26" cy="241.19" r="1.45" fill="#000"/>
<circle cx="156.72" cy="241.19" r="1.45" fill="#000"/>
<circle cx="164.74" cy="241.19" r="1.45" fill="#000"/>
<circle cx="168.68" cy="241.19" r="1.45" fill="#000"/>
<circle cx="146.54" cy="241.19" r="1.45" fill="#000"/>
<circle cx="154.55" cy="241.19" r="1.45" fill="#000"/>
<circle cx="174.66" cy="241.19" r="1.45" fill="#000"/>
<circle cx="181.99" cy="241.19" r="1.45" fill="#000"/>
<circle cx="180.77" cy="241.19" r="1.45" fill="#000"/>
<rect x="203.75" y="200.40" width="57.6" height="42.4" fill="#ebebeb"/>
<line x1="213.33" x2="213.33" y1="200.40" y2="242.80" stroke="#f5f5f5" stroke-width="0.3"/>
<line x1="227.21" x2="227.21" y1="200.40" y2="242.80" stroke="#f5f5f5" stroke-width="0.3"/>
<line x1="241.09" x2="241.09" y1="200.40" y2="242.80" stroke="#f5f5f5" stroke-width="0.3"/>
<line x1="254.97" x2="254.97" y1="200.40" y2="242.80" stroke="#f5f5f5" stroke-width="0.3"/>
<line x1="206.39" x2="206.39" y1="200.40" y2="242.80" stroke="#fff" stroke-width="0.5"/>
<line x1="220.27" x2="220.27" y1="200.40" y2="242.80" stroke="#fff" stroke-width="0.5"/>
<line x1="234.15" x2="234.15" y1="200.40" y2="242.80" stroke="#fff" stroke-width="0.5"/>
<line x1="248.03" x2="248.03" y1="200.40" y2="242.80" stroke="#fff" stroke-width="0.5"/>
<line x1="203.75" x2="261.35" y1="236.33" y2="236.33" stroke="#f5f5f5" stroke-width="0.3"/>
<line x1="203.75" x2="261.35" y1="226.62" y2="226.62" stroke="#f5f5f5" stroke-width="0.3"/>
<line x1="203.75" x2="261.35" y1="216.90" y2="216.90" stroke="#f5f5f5" stroke-width="0.3"/>
<line x1="203.75" x2="261.35" y1="207.19" y2="207.19" stroke="#f5f5f5" stroke-width="0.3"/>
<line x1="203.75" x2="261.35" y1="241.19" y2="241.19" stroke="#fff" stroke-width="0.5"/>
<line x1="203.75" x2="261.35" y1="231.48" y2="231.48" stroke="#fff" stroke-width="0.5"/>
<line x1="203.75" x2="261.35" y1="221.76" y2="221.76" stroke="#fff" stroke-width="0.5"/>
<line x1="203.75" x2="261.35" y1="212.04" y2="212.04" stroke="#fff" stroke-width="0.5"/>
<line x1="203.75" x2="261.35" y1="202.33" y2="202.33" stroke="#fff" stroke-width="0.5"/>
<circle cx="248.03" cy="241.19" r="1.45" fill="#000"/>
<circle cx="231.37" cy="241.19" r="1.45" fill="#000"/>
<circle cx="259.13" cy="241.19" r="1.45" fill="#000"/>
<circle cx="228.59" cy="241.19" r="1.45" fill="#000"/>
<circle cx="225.82" cy="202.33" r="1.45" fill="#000"/>
<circle cx="239.70" cy="241.19" r="1.45" fill="#000"/>
<circle cx="225.82" cy="241.19" r="1.45" fill="#000"/>
<circle cx="217.49" cy="241.19" r="1.45" fill="#000"/>
<circle cx="223.04" cy="241.19" r="1.45" fill="#000"/>
<circle cx="217.49" cy="202.33" r="1.45" fill="#000"/>
<circle cx="206.39" cy="241.19" r="1.45" fill="#000"/>
<circle cx="211.94" cy="202.33" r="1.45" fill="#000"/>
<circle cx="217.49" cy="241.19" r="1.45" fill="#000"/>
<circle cx="206.39" cy="241.19" r="1.45" fill="#000"/>
<circle cx="209.16" cy="241.19" r="1.45" fill="#000"/>
<circle cx="214.71" cy="241.19" r="1.45" fill="#000"/>
<circle cx="217.49" cy="241.19" r="1.45" fill="#000"/>
<circle cx="211.94" cy="241.19" r="1.45" fill="#000"/>
<circle cx="214.71" cy="241.19" r="1.45" fill="#000"/>
<circle cx="225.82" cy="241.19" r="1.45" fill="#000"/>
<circle cx="225.82" cy="241.19" r="1.45" fill="#000"/>
<circle cx="209.16" cy="241.19" r="1.45" fill="#000"/>
<circle cx="211.94" cy="241.19" r="1.45" fill="#000"/>
<circle cx="214.71" cy="241.19" r="1.45" fill="#000"/>
<circle cx="214.71" cy="241.19" r="1.45" fill="#000"/>
<circle cx="211.94" cy="241.19" r="1.45" fill="#000"/>
<rect x="265.50" y="200.40" width="57.6" height="42.4" fill="#ebebeb"/>
<line x1="274.66" x2="274.66" y1="200.40" y2="242.80" stroke="#f5f5f5" stroke-width="0.3"/>
<line x1="287.75" x2="287.75" y1="200.40" y2="242.80" stroke="#f5f5f5" stroke-width="0.3"/>
<line x1="300.85" x2="300.85" y1="200.40" y2="242.80" stroke="#f5f5f5" stroke-width="0.3"/>
<line x1="313.94" x2="313.94" y1="200.40" y2="242.80" stroke="#f5f5f5" stroke-width="0.3"/>
<line x1="268.12" x2="268.12" y1="200.40" y2="242.80" stroke="#fff" stroke-width="0.5"/>
<line x1="281.21" x2="281.21" y1="200.40" y2="242.80" stroke="#fff" stroke-width="0.5"/>
<line x1="294.30" x2="294.30" y1="200.40" y2="242.80" stroke="#fff" stroke-width="0.5"/>
<line x1="307.39" x2="307.39" y1="200.40" y2="242.80" stroke="#fff" stroke-width="0.5"/>
<line x1="320.48" x2="320.48" y1="200.40" y2="242.80" stroke="#fff" stroke-width="0.5"/>
<line x1="265.50" x2="323.10" y1="240.87" y2="240.87" stroke="#fff" stroke-width="0.5"/>
<line x1="265.50" x2="323.10" y1="236.70" y2="236.70" stroke="#f5f5f5" stroke-width="0.3"/>
<line x1="265.50" x2="323.10" y1="232.53" y2="232.53" stroke="#fff" stroke-width="0.5"/>
<line x1="265.50" x2="323.10" y1="228.35" y2="228.35" stroke="#f5f5f5" stroke-width="0.3"/>
<line x1="265.50" x2="323.10" y1="224.18" y2="224.18" stroke="#fff" stroke-width="0.5"/>
<line x1="265.50" x2="323.10" y1="220.01" y2="220.01" stroke="#f5f5f5" stroke-width="0.3"/>
<line x1="265.50" x2="323.10" y1="215.83" y2="215.83" stroke="#fff" stroke-width="0.5"/>
<line x1="265.50" x2="323.10" y1="211.66" y2="211.66" stroke="#f5f5f5" stroke-width="0.3"/>
<line x1="265.50" x2="323.10" y1="207.49" y2="207.49" stroke="#fff" stroke-width="0.5"/>
<line x1="265.50" x2="323.10" y1="203.32" y2="203.32" stroke="#f5f5f5" stroke-width="0.3"/>
<polyline points="268.12,202.77 268.38,202.80 268.64,202.86 268.91,202.96 269.17,203.11 269.43,203.29 269.70,203.52 269.96,203.78 270.22,204.08 270.49,204.43 270.75,204.80 271.01,205.21 271.28,205.66 271.54,206.14 271.80,206.65 272.07,207.19 272.33,207.76 272.59,208.35 272.85,208.97 273.12,209.61 273.38,210.27 273.64,210.95 273.91,211.65 274.17,212.36 274.43,213.09 274.70,213.82 274.96,214.57 275.22,215.33 275.49,216.09 275.75,216.85 276.01,217.62 276.28,218.39 276.54,219.16 276.80,219.92 277.06,220.68 277.33,221.44 277.59,222.19 277.85,222.93 278.12,223.66 278.38,224.38 278.64,225.09 278.91,225.78 279.17,226.46 279.43,227.13 279.70,227.78 279.96,228.42 280.22,229.04 280.49,229.64 280.75,230.22 281.01,230.79 281.27,231.34 281.54,231.87 281.80,232.38 282.06,232.87 282.33,233.35 282.59,233.80 282.85,234.24 283.12,234.66 283.38,235.06 283.64,235.44 283.91,235.81 284.17,236.16 284.43,236.49 284.70,236.81 284.96,237.10 285.22,237.39 285.49,237.66 285.75,237.91 286.01,238.15 286.27,238.38 286.54,238.59 286.80,238.79 287.06,238.98 287.33,239.15 287.59,239.32 287.85,239.47 288.12,239.62 288.38,239.75 288.64,239.88 288.91,239.99 289.17,240.10 289.43,240.20 289.70,240.30 289.96,240.38 290.22,240.46 290.48,240.54 290.75,240.60 291.01,240.67 291.27,240.72 291.54,240.78 291.80,240.82 292.06,240.87 292.33,240.91 292.59,240.95 292.85,240.98 293.12,241.01 293.38,241.04 293.64,241.06 293.91,241.08 294.17,241.10 294.43,241.12 294.69,241.13 294.96,241.15 295.22,241.16 295.48,241.17 295.75,241.17 296.01,241.18 296.27,241.19 296.54,241.19 296.80,241.19 297.06,241.19 297.33,241.19 297.59,241.19 297.85,241.18 298.12,241.18 298.38,241.17 298.64,241.17 298.90,241.16 299.17,241.15 299.43,241.14 299.69,241.13 299.96,241.11 300.22,241.10 300.48,241.08 300.75,241.07 301.01,241.05 301.27,241.03 301.54,241.00 301.80,240.98 302.06,240.96 302.33,240.93 302.59,240.90 302.85,240.87 303.11,240.84 303.38,240.80 303.64,240.76 303.90,240.73 304.17,240.69 304.43,240.64 304.69,240.60 304.96,240.55 305.22,240.50 305.48,240.45 305.75,240.39 306.01,240.34 306.27,240.28 306.54,240.21 306.80,240.15 307.06,240.08 307.33,240.01 307.59,239.94 307.85,239.87 308.11,239.79 308.38,239.71 308.64,239.63 308.90,239.55 309.17,239.47 309.43,239.38 309.69,239.29 309.96,239.20 310.22,239.11 310.48,239.01 310.75,238.92 311.01,238.82 311.27,238.72 311.54,238.62 311.80,238.53 312.06,238.43 312.32,238.33 312.59,238.23 312.85,238.13 313.11,238.03 313.38,237.93 313.64,237.83 313.90,237.73 314.17,237.63 314.43,237.54 314.69,237.45 314.96,237.36 315.22,237.27 315.48,237.18 315.75,237.10 316.01,237.02 316.27,236.94 316.53,236.86 316.80,236.79 317.06,236.73 317.32,236.67 317.59,236.61 317.85,236.55 318.11,236.50 318.38,236.46 318.64,236.42 318.90,236.39 319.17,236.36 319.43,236.33 319.69,236.31 319.96,236.30 320.22,236.29 320.48,236.29" fill="none" stroke="#111" stroke-width="1" stroke-linejoin="round"/>
<rect x="327.25" y="200.40" width="57.6" height="42.4" fill="#fefefe" stroke="#f6f6f6" stroke-width="0.5"/>
<text x="356.05" y="219.10" font-size="7.2" fill="#4d4d4d" text-anchor="middle" font-family="Liberation Mono, Courier New, monospace">Corr:</text>
<text x="345.25 349.57 353.89 358.21 362.53 366.85" y="229.30" font-size="7.2" fill="#4d4d4d" text-anchor="middle" font-family="Liberation Mono, Courier New, monospace">-<tspan font-family="Liberation Sans, Arial, sans-serif" font-size="7">0</tspan>.232</text>
<rect x="18.50" y="246.95" width="57.6" height="42.4" fill="#ebebeb"/>
<line x1="30.17" x2="30.17" y1="246.95" y2="289.35" stroke="#f5f5f5" stroke-width="0.3"/>
<line x1="44.07" x2="44.07" y1="246.95" y2="289.35" stroke="#f5f5f5" stroke-width="0.3"/>
<line x1="57.97" x2="57.97" y1="246.95" y2="289.35" stroke="#f5f5f5" stroke-width="0.3"/>
<line x1="71.86" x2="71.86" y1="246.95" y2="289.35" stroke="#f5f5f5" stroke-width="0.3"/>
<line x1="23.22" x2="23.22" y1="246.95" y2="289.35" stroke="#fff" stroke-width="0.5"/>
<line x1="37.12" x2="37.12" y1="246.95" y2="289.35" stroke="#fff" stroke-width="0.5"/>
<line x1="51.02" x2="51.02" y1="246.95" y2="289.35" stroke="#fff" stroke-width="0.5"/>
<line x1="64.91" x2="64.91" y1="246.95" y2="289.35" stroke="#fff" stroke-width="0.5"/>
<line x1="18.50" x2="76.10" y1="283.14" y2="283.14" stroke="#f5f5f5" stroke-width="0.3"/>
<line x1="18.50" x2="76.10" y1="274.57" y2="274.57" stroke="#f5f5f5" stroke-width="0.3"/>
<line x1="18.50" x2="76.10" y1="266.01" y2="266.01" stroke="#f5f5f5" stroke-width="0.3"/>
<line x1="18.50" x2="76.10" y1="257.44" y2="257.44" stroke="#f5f5f5" stroke-width="0.3"/>
<line x1="18.50" x2="76.10" y1="248.88" y2="248.88" stroke="#f5f5f5" stroke-width="0.3"/>
<line x1="18.50" x2="76.10" y1="287.42" y2="287.42" stroke="#fff" stroke-width="0.5"/>
<line x1="18.50" x2="76.10" y1="278.86" y2="278.86" stroke="#fff" stroke-width="0.5"/>
<line x1="18.50" x2="76.10" y1="270.29" y2="270.29" stroke="#fff" stroke-width="0.5"/>
<line x1="18.50" x2="76.10" y1="261.73" y2="261.73" stroke="#fff" stroke-width="0.5"/>
<line x1="18.50" x2="76.10" y1="253.16" y2="253.16" stroke="#fff" stroke-width="0.5"/>
<circle cx="20.75" cy="248.88" r="1.45" fill="#000"/>
<circle cx="23.75" cy="270.29" r="1.45" fill="#000"/>
<circle cx="25.60" cy="261.73" r="1.45" fill="#000"/>
<circle cx="25.90" cy="283.14" r="1.45" fill="#000"/>
<circle cx="26.30" cy="283.14" r="1.45" fill="#000"/>
<circle cx="28.70" cy="283.14" r="1.45" fill="#000"/>
<circle cx="34.20" cy="261.73" r="1.45" fill="#000"/>
<circle cx="35.50" cy="274.57" r="1.45" fill="#000"/>
<circle cx="38.85" cy="283.14" r="1.45" fill="#000"/>
<circle cx="48.05" cy="278.86" r="1.45" fill="#000"/>
<circle cx="51.90" cy="274.57" r="1.45" fill="#000"/>
<circle cx="53.40" cy="283.14" r="1.45" fill="#000"/>
<circle cx="56.00" cy="278.86" r="1.45" fill="#000"/>
<circle cx="57.30" cy="287.42" r="1.45" fill="#000"/>
<circle cx="58.60" cy="287.42" r="1.45" fill="#000"/>
<circle cx="59.40" cy="274.57" r="1.45" fill="#000"/>
<circle cx="60.20" cy="287.42" r="1.45" fill="#000"/>
<circle cx="63.50" cy="278.86" r="1.45" fill="#000"/>
<circle cx="66.20" cy="274.57" r="1.45" fill="#000"/>
<circle cx="66.80" cy="266.01" r="1.45" fill="#000"/>
<circle cx="68.60" cy="270.29" r="1.45" fill="#000"/>
<circle cx="68.50" cy="287.42" r="1.45" fill="#000"/>
<circle cx="69.80" cy="274.57" r="1.45" fill="#000"/>
<circle cx="70.30" cy="270.29" r="1.45" fill="#000"/>
<circle cx="70.70" cy="266.01" r="1.45" fill="#000"/>
<circle cx="73.60" cy="278.86" r="1.45" fill="#000"/>
<rect x="80.25" y="246.95" width="57.6" height="42.4" fill="#ebebeb"/>
<line x1="87.46" x2="87.46" y1="246.95" y2="289.35" stroke="#f5f5f5" stroke-width="0.3"/>
<line x1="101.24" x2="101.24" y1="246.95" y2="289.35" stroke="#f5f5f5" stroke-width="0.3"/>
<line x1="115.02" x2="115.02" y1="246.95" y2="289.35" stroke="#f5f5f5" stroke-width="0.3"/>
<line x1="128.80" x2="128.80" y1="246.95" y2="289.35" stroke="#f5f5f5" stroke-width="0.3"/>
<line x1="94.35" x2="94.35" y1="246.95" y2="289.35" stroke="#fff" stroke-width="0.5"/>
<line x1="108.13" x2="108.13" y1="246.95" y2="289.35" stroke="#fff" stroke-width="0.5"/>
<line x1="121.91" x2="121.91" y1="246.95" y2="289.35" stroke="#fff" stroke-width="0.5"/>
<line x1="135.69" x2="135.69" y1="246.95" y2="289.35" stroke="#fff" stroke-width="0.5"/>
<line x1="80.25" x2="137.85" y1="283.14" y2="283.14" stroke="#f5f5f5" stroke-width="0.3"/>
<line x1="80.25" x2="137.85" y1="274.57" y2="274.57" stroke="#f5f5f5" stroke-width="0.3"/>
<line x1="80.25" x2="137.85" y1="266.01" y2="266.01" stroke="#f5f5f5" stroke-width="0.3"/>
<line x1="80.25" x2="137.85" y1="257.44" y2="257.44" stroke="#f5f5f5" stroke-width="0.3"/>
<line x1="80.25" x2="137.85" y1="248.88" y2="248.88" stroke="#f5f5f5" stroke-width="0.3"/>
<line x1="80.25" x2="137.85" y1="287.42" y2="287.42" stroke="#fff" stroke-width="0.5"/>
<line x1="80.25" x2="137.85" y1="278.86" y2="278.86" stroke="#fff" stroke-width="0.5"/>
<line x1="80.25" x2="137.85" y1="270.29" y2="270.29" stroke="#fff" stroke-width="0.5"/>
<line x1="80.25" x2="137.85" y1="261.73" y2="261.73" stroke="#fff" stroke-width="0.5"/>
<line x1="80.25" x2="137.85" y1="253.16" y2="253.16" stroke="#fff" stroke-width="0.5"/>
<circle cx="119.90" cy="248.88" r="1.45" fill="#000"/>
<circle cx="84.45" cy="270.29" r="1.45" fill="#000"/>
<circle cx="99.66" cy="261.73" r="1.45" fill="#000"/>
<circle cx="121.40" cy="283.14" r="1.45" fill="#000"/>
<circle cx="87.98" cy="283.14" r="1.45" fill="#000"/>
<circle cx="83.63" cy="283.14" r="1.45" fill="#000"/>
<circle cx="88.79" cy="261.73" r="1.45" fill="#000"/>
<circle cx="82.68" cy="274.57" r="1.45" fill="#000"/>
<circle cx="90.07" cy="283.14" r="1.45" fill="#000"/>
<circle cx="82.95" cy="278.86" r="1.45" fill="#000"/>
<circle cx="84.04" cy="274.57" r="1.45" fill="#000"/>
<circle cx="90.56" cy="283.14" r="1.45" fill="#000"/>
<circle cx="89.20" cy="278.86" r="1.45" fill="#000"/>
<circle cx="85.67" cy="287.42" r="1.45" fill="#000"/>
<circle cx="87.71" cy="287.42" r="1.45" fill="#000"/>
<circle cx="95.99" cy="274.57" r="1.45" fill="#000"/>
<circle cx="83.63" cy="287.42" r="1.45" fill="#000"/>
<circle cx="135.93" cy="278.86" r="1.45" fill="#000"/>
<circle cx="85.67" cy="274.57" r="1.45" fill="#000"/>
<circle cx="86.16" cy="266.01" r="1.45" fill="#000"/>
<circle cx="107.68" cy="270.29" r="1.45" fill="#000"/>
<circle cx="86.76" cy="287.42" r="1.45" fill="#000"/>
<circle cx="87.57" cy="274.57" r="1.45" fill="#000"/>
<circle cx="135.25" cy="270.29" r="1.45" fill="#000"/>
<circle cx="132.40" cy="266.01" r="1.45" fill="#000"/>
<circle cx="102.38" cy="278.86" r="1.45" fill="#000"/>
<rect x="142.00" y="246.95" width="57.6" height="42.4" fill="#ebebeb"/>
<line x1="150.80" x2="150.80" y1="246.95" y2="289.35" stroke="#f5f5f5" stroke-width="0.3"/>
<line x1="165.84" x2="165.84" y1="246.95" y2="289.35" stroke="#f5f5f5" stroke-width="0.3"/>
<line x1="180.89" x2="180.89" y1="246.95" y2="289.35" stroke="#f5f5f5" stroke-width="0.3"/>
<line x1="195.94" x2="195.94" y1="246.95" y2="289.35" stroke="#f5f5f5" stroke-width="0.3"/>
<line x1="143.27" x2="143.27" y1="246.95" y2="289.35" stroke="#fff" stroke-width="0.5"/>
<line x1="158.32" x2="158.32" y1="246.95" y2="289.35" stroke="#fff" stroke-width="0.5"/>
<line x1="173.37" x2="173.37" y1="246.95" y2="289.35" stroke="#fff" stroke-width="0.5"/>
<line x1="188.41" x2="188.41" y1="246.95" y2="289.35" stroke="#fff" stroke-width="0.5"/>
<line x1="142.00" x2="199.60" y1="283.14" y2="283.14" stroke="#f5f5f5" stroke-width="0.3"/>
<line x1="142.00" x2="199.60" y1="274.57" y2="274.57" stroke="#f5f5f5" stroke-width="0.3"/>
<line x1="142.00" x2="199.60" y1="266.01" y2="266.01" stroke="#f5f5f5" stroke-width="0.3"/>
<line x1="142.00" x2="199.60" y1="257.44" y2="257.44" stroke="#f5f5f5" stroke-width="0.3"/>
<line x1="142.00" x2="199.60" y1="248.88" y2="248.88" stroke="#f5f5f5" stroke-width="0.3"/>
<line x1="142.00" x2="199.60" y1="287.42" y2="287.42" stroke="#fff" stroke-width="0.5"/>
<line x1="142.00" x2="199.60" y1="278.86" y2="278.86" stroke="#fff" stroke-width="0.5"/>
<line x1="142.00" x2="199.60" y1="270.29" y2="270.29" stroke="#fff" stroke-width="0.5"/>
<line x1="142.00" x2="199.60" y1="261.73" y2="261.73" stroke="#fff" stroke-width="0.5"/>
<line x1="142.00" x2="199.60" y1="253.16" y2="253.16" stroke="#fff" stroke-width="0.5"/>
<circle cx="185.80" cy="248.88" r="1.45" fill="#000"/>
<circle cx="180.63" cy="270.29" r="1.45" fill="#000"/>
<circle cx="158.63" cy="261.73" r="1.45" fill="#000"/>
<circle cx="144.50" cy="283.14" r="1.45" fill="#000"/>
<circle cx="155.37" cy="283.14" r="1.45" fill="#000"/>
<circle cx="164.74" cy="283.14" r="1.45" fill="#000"/>
<circle cx="166.64" cy="261.73" r="1.45" fill="#000"/>
<circle cx="176.69" cy="274.57" r="1.45" fill="#000"/>
<circle cx="176.69" cy="283.14" r="1.45" fill="#000"/>
<circle cx="171.87" cy="278.86" r="1.45" fill="#000"/>
<circle cx="192.45" cy="274.57" r="1.45" fill="#000"/>
<circle cx="193.95" cy="283.14" r="1.45" fill="#000"/>
<circle cx="174.66" cy="278.86" r="1.45" fill="#000"/>
<circle cx="188.51" cy="287.42" r="1.45" fill="#000"/>
<circle cx="197.34" cy="287.42" r="1.45" fill="#000"/>
<circle cx="171.26" cy="274.57" r="1.45" fill="#000"/>
<circle cx="189.33" cy="287.42" r="1.45" fill="#000"/>
<circle cx="171.26" cy="278.86" r="1.45" fill="#000"/>
<circle cx="156.72" cy="274.57" r="1.45" fill="#000"/>
<circle cx="164.74" cy="266.01" r="1.45" fill="#000"/>
<circle cx="168.68" cy="270.29" r="1.45" fill="#000"/>
<circle cx="146.54" cy="287.42" r="1.45" fill="#000"/>
<circle cx="154.55" cy="274.57" r="1.45" fill="#000"/>
<circle cx="174.66" cy="270.29" r="1.45" fill="#000"/>
<circle cx="181.99" cy="266.01" r="1.45" fill="#000"/>
<circle cx="180.77" cy="278.86" r="1.45" fill="#000"/>
<rect x="203.75" y="246.95" width="57.6" height="42.4" fill="#ebebeb"/>
<line x1="213.33" x2="213.33" y1="246.95" y2="289.35" stroke="#f5f5f5" stroke-width="0.3"/>
<line x1="227.21" x2="227.21" y1="246.95" y2="289.35" stroke="#f5f5f5" stroke-width="0.3"/>
<line x1="241.09" x2="241.09" y1="246.95" y2="289.35" stroke="#f5f5f5" stroke-width="0.3"/>
<line x1="254.97" x2="254.97" y1="246.95" y2="289.35" stroke="#f5f5f5" stroke-width="0.3"/>
<line x1="206.39" x2="206.39" y1="246.95" y2="289.35" stroke="#fff" stroke-width="0.5"/>
<line x1="220.27" x2="220.27" y1="246.95" y2="289.35" stroke="#fff" stroke-width="0.5"/>
<line x1="234.15" x2="234.15" y1="246.95" y2="289.35" stroke="#fff" stroke-width="0.5"/>
<line x1="248.03" x2="248.03" y1="246.95" y2="289.35" stroke="#fff" stroke-width="0.5"/>
<line x1="203.75" x2="261.35" y1="283.14" y2="283.14" stroke="#f5f5f5" stroke-width="0.3"/>
<line x1="203.75" x2="261.35" y1="274.57" y2="274.57" stroke="#f5f5f5" stroke-width="0.3"/>
<line x1="203.75" x2="261.35" y1="266.01" y2="266.01" stroke="#f5f5f5" stroke-width="0.3"/>
<line x1="203.75" x2="261.35" y1="257.44" y2="257.44" stroke="#f5f5f5" stroke-width="0.3"/>
<line x1="203.75" x2="261.35" y1="248.88" y2="248.88" stroke="#f5f5f5" stroke-width="0.3"/>
<line x1="203.75" x2="261.35" y1="287.42" y2="287.42" stroke="#fff" stroke-width="0.5"/>
<line x1="203.75" x2="261.35" y1="278.86" y2="278.86" stroke="#fff" stroke-width="0.5"/>
<line x1="203.75" x2="261.35" y1="270.29" y2="270.29" stroke="#fff" stroke-width="0.5"/>
<line x1="203.75" x2="261.35" y1="261.73" y2="261.73" stroke="#fff" stroke-width="0.5"/>
<line x1="203.75" x2="261.35" y1="253.16" y2="253.16" stroke="#fff" stroke-width="0.5"/>
<circle cx="248.03" cy="248.88" r="1.45" fill="#000"/>
<circle cx="231.37" cy="270.29" r="1.45" fill="#000"/>
<circle cx="259.13" cy="261.73" r="1.45" fill="#000"/>
<circle cx="228.59" cy="283.14" r="1.45" fill="#000"/>
<circle cx="225.82" cy="283.14" r="1.45" fill="#000"/>
<circle cx="239.70" cy="283.14" r="1.45" fill="#000"/>
<circle cx="225.82" cy="261.73" r="1.45" fill="#000"/>
<circle cx="217.49" cy="274.57" r="1.45" fill="#000"/>
<circle cx="223.04" cy="283.14" r="1.45" fill="#000"/>
<circle cx="217.49" cy="278.86" r="1.45" fill="#000"/>
<circle cx="206.39" cy="274.57" r="1.45" fill="#000"/>
<circle cx="211.94" cy="283.14" r="1.45" fill="#000"/>
<circle cx="217.49" cy="278.86" r="1.45" fill="#000"/>
<circle cx="206.39" cy="287.42" r="1.45" fill="#000"/>
<circle cx="209.16" cy="287.42" r="1.45" fill="#000"/>
<circle cx="214.71" cy="274.57" r="1.45" fill="#000"/>
<circle cx="217.49" cy="287.42" r="1.45" fill="#000"/>
<circle cx="211.94" cy="278.86" r="1.45" fill="#000"/>
<circle cx="214.71" cy="274.57" r="1.45" fill="#000"/>
<circle cx="225.82" cy="266.01" r="1.45" fill="#000"/>
<circle cx="225.82" cy="270.29" r="1.45" fill="#000"/>
<circle cx="209.16" cy="287.42" r="1.45" fill="#000"/>
<circle cx="211.94" cy="274.57" r="1.45" fill="#000"/>
<circle cx="214.71" cy="270.29" r="1.45" fill="#000"/>
<circle cx="214.71" cy="266.01" r="1.45" fill="#000"/>
<circle cx="211.94" cy="278.86" r="1.45" fill="#000"/>
<rect x="265.50" y="246.95" width="57.6" height="42.4" fill="#ebebeb"/>
<line x1="274.66" x2="274.66" y1="246.95" y2="289.35" stroke="#f5f5f5" stroke-width="0.3"/>
<line x1="287.75" x2="287.75" y1="246.95" y2="289.35" stroke="#f5f5f5" stroke-width="0.3"/>
<line x1="300.85" x2="300.85" y1="246.95" y2="289.35" stroke="#f5f5f5" stroke-width="0.3"/>
<line x1="313.94" x2="313.94" y1="246.95" y2="289.35" stroke="#f5f5f5" stroke-width="0.3"/>
<line x1="268.12" x2="268.12" y1="246.95" y2="289.35" stroke="#fff" stroke-width="0.5"/>
<line x1="281.21" x2="281.21" y1="246.95" y2="289.35" stroke="#fff" stroke-width="0.5"/>
<line x1="294.30" x2="294.30" y1="246.95" y2="289.35" stroke="#fff" stroke-width="0.5"/>
<line x1="307.39" x2="307.39" y1="246.95" y2="289.35" stroke="#fff" stroke-width="0.5"/>
<line x1="320.48" x2="320.48" y1="246.95" y2="289.35" stroke="#fff" stroke-width="0.5"/>
<line x1="265.50" x2="323.10" y1="283.14" y2="283.14" stroke="#f5f5f5" stroke-width="0.3"/>
<line x1="265.50" x2="323.10" y1="274.57" y2="274.57" stroke="#f5f5f5" stroke-width="0.3"/>
<line x1="265.50" x2="323.10" y1="266.01" y2="266.01" stroke="#f5f5f5" stroke-width="0.3"/>
<line x1="265.50" x2="323.10" y1="257.44" y2="257.44" stroke="#f5f5f5" stroke-width="0.3"/>
<line x1="265.50" x2="323.10" y1="248.88" y2="248.88" stroke="#f5f5f5" stroke-width="0.3"/>
<line x1="265.50" x2="323.10" y1="287.42" y2="287.42" stroke="#fff" stroke-width="0.5"/>
<line x1="265.50" x2="323.10" y1="278.86" y2="278.86" stroke="#fff" stroke-width="0.5"/>
<line x1="265.50" x2="323.10" y1="270.29" y2="270.29" stroke="#fff" stroke-width="0.5"/>
<line x1="265.50" x2="323.10" y1="261.73" y2="261.73" stroke="#fff" stroke-width="0.5"/>
<line x1="265.50" x2="323.10" y1="253.16" y2="253.16" stroke="#fff" stroke-width="0.5"/>
<circle cx="268.12" cy="248.88" r="1.45" fill="#000"/>
<circle cx="268.12" cy="270.29" r="1.45" fill="#000"/>
<circle cx="268.12" cy="261.73" r="1.45" fill="#000"/>
<circle cx="268.12" cy="283.14" r="1.45" fill="#000"/>
<circle cx="320.48" cy="283.14" r="1.45" fill="#000"/>
<circle cx="268.12" cy="283.14" r="1.45" fill="#000"/>
<circle cx="268.12" cy="261.73" r="1.45" fill="#000"/>
<circle cx="268.12" cy="274.57" r="1.45" fill="#000"/>
<circle cx="268.12" cy="283.14" r="1.45" fill="#000"/>
<circle cx="320.48" cy="278.86" r="1.45" fill="#000"/>
<circle cx="268.12" cy="274.57" r="1.45" fill="#000"/>
<circle cx="320.48" cy="283.14" r="1.45" fill="#000"/>
<circle cx="268.12" cy="278.86" r="1.45" fill="#000"/>
<circle cx="268.12" cy="287.42" r="1.45" fill="#000"/>
<circle cx="268.12" cy="287.42" r="1.45" fill="#000"/>
<circle cx="268.12" cy="274.57" r="1.45" fill="#000"/>
<circle cx="268.12" cy="287.42" r="1.45" fill="#000"/>
<circle cx="268.12" cy="278.86" r="1.45" fill="#000"/>
<circle cx="268.12" cy="274.57" r="1.45" fill="#000"/>
<circle cx="268.12" cy="266.01" r="1.45" fill="#000"/>
<circle cx="268.12" cy="270.29" r="1.45" fill="#000"/>
<circle cx="268.12" cy="287.42" r="1.45" fill="#000"/>
<circle cx="268.12" cy="274.57" r="1.45" fill="#000"/>
<circle cx="268.12" cy="270.29" r="1.45" fill="#000"/>
<circle cx="268.12" cy="266.01" r="1.45" fill="#000"/>
<circle cx="268.12" cy="278.86" r="1.45" fill="#000"/>
<rect x="327.25" y="246.95" width="57.6" height="42.4" fill="#ebebeb"/>
<line x1="335.32" x2="335.32" y1="246.95" y2="289.35" stroke="#f5f5f5" stroke-width="0.3"/>
<line x1="347.06" x2="347.06" y1="246.95" y2="289.35" stroke="#f5f5f5" stroke-width="0.3"/>
<line x1="358.80" x2="358.80" y1="246.95" y2="289.35" stroke="#f5f5f5" stroke-width="0.3"/>
<line x1="370.54" x2="370.54" y1="246.95" y2="289.35" stroke="#f5f5f5" stroke-width="0.3"/>
<line x1="382.28" x2="382.28" y1="246.95" y2="289.35" stroke="#f5f5f5" stroke-width="0.3"/>
<line x1="329.45" x2="329.45" y1="246.95" y2="289.35" stroke="#fff" stroke-width="0.5"/>
<line x1="341.19" x2="341.19" y1="246.95" y2="289.35" stroke="#fff" stroke-width="0.5"/>
<line x1="352.93" x2="352.93" y1="246.95" y2="289.35" stroke="#fff" stroke-width="0.5"/>
<line x1="364.67" x2="364.67" y1="246.95" y2="289.35" stroke="#fff" stroke-width="0.5"/>
<line x1="376.41" x2="376.41" y1="246.95" y2="289.35" stroke="#fff" stroke-width="0.5"/>
<line x1="327.25" x2="384.85" y1="287.42" y2="287.42" stroke="#fff" stroke-width="0.5"/>
<line x1="327.25" x2="384.85" y1="282.86" y2="282.86" stroke="#f5f5f5" stroke-width="0.3"/>
<line x1="327.25" x2="384.85" y1="278.29" y2="278.29" stroke="#fff" stroke-width="0.5"/>
<line x1="327.25" x2="384.85" y1="273.73" y2="273.73" stroke="#f5f5f5" stroke-width="0.3"/>
<line x1="327.25" x2="384.85" y1="269.17" y2="269.17" stroke="#fff" stroke-width="0.5"/>
<line x1="327.25" x2="384.85" y1="264.60" y2="264.60" stroke="#f5f5f5" stroke-width="0.3"/>
<line x1="327.25" x2="384.85" y1="260.04" y2="260.04" stroke="#fff" stroke-width="0.5"/>
<line x1="327.25" x2="384.85" y1="255.47" y2="255.47" stroke="#f5f5f5" stroke-width="0.3"/>
<line x1="327.25" x2="384.85" y1="250.91" y2="250.91" stroke="#fff" stroke-width="0.5"/>
<polyline points="329.45,261.41 329.72,260.77 329.98,260.13 330.25,259.51 330.51,258.91 330.78,258.32 331.04,257.75 331.31,257.20 331.57,256.66 331.84,256.15 332.11,255.65 332.37,255.18 332.64,254.72 332.90,254.29 333.17,253.87 333.43,253.48 333.70,253.11 333.96,252.76 334.23,252.42 334.49,252.11 334.76,251.82 335.03,251.55 335.29,251.29 335.56,251.06 335.82,250.84 336.09,250.64 336.35,250.46 336.62,250.29 336.88,250.14 337.15,250.00 337.41,249.88 337.68,249.77 337.95,249.68 338.21,249.60 338.48,249.53 338.74,249.47 339.01,249.42 339.27,249.38 339.54,249.35 339.80,249.33 340.07,249.32 340.33,249.32 340.60,249.33 340.87,249.35 341.13,249.37 341.40,249.41 341.66,249.45 341.93,249.50 342.19,249.55 342.46,249.62 342.72,249.69 342.99,249.77 343.26,249.86 343.52,249.96 343.79,250.06 344.05,250.18 344.32,250.30 344.58,250.44 344.85,250.58 345.11,250.73 345.38,250.90 345.64,251.07 345.91,251.25 346.18,251.45 346.44,251.65 346.71,251.87 346.97,252.09 347.24,252.33 347.50,252.58 347.77,252.83 348.03,253.10 348.30,253.38 348.56,253.67 348.83,253.97 349.10,254.27 349.36,254.59 349.63,254.91 349.89,255.25 350.16,255.59 350.42,255.94 350.69,256.29 350.95,256.65 351.22,257.02 351.48,257.39 351.75,257.77 352.02,258.15 352.28,258.53 352.55,258.91 352.81,259.30 353.08,259.69 353.34,260.08 353.61,260.47 353.87,260.86 354.14,261.25 354.40,261.63 354.67,262.02 354.94,262.41 355.20,262.79 355.47,263.17 355.73,263.54 356.00,263.92 356.26,264.29 356.53,264.65 356.79,265.02 357.06,265.38 357.33,265.73 357.59,266.09 357.86,266.44 358.12,266.78 358.39,267.13 358.65,267.47 358.92,267.81 359.18,268.14 359.45,268.48 359.71,268.81 359.98,269.14 360.25,269.47 360.51,269.80 360.78,270.12 361.04,270.45 361.31,270.78 361.57,271.10 361.84,271.43 362.10,271.76 362.37,272.09 362.63,272.42 362.90,272.75 363.17,273.08 363.43,273.41 363.70,273.75 363.96,274.08 364.23,274.42 364.49,274.75 364.76,275.09 365.02,275.43 365.29,275.77 365.55,276.11 365.82,276.45 366.09,276.78 366.35,277.12 366.62,277.45 366.88,277.79 367.15,278.12 367.41,278.44 367.68,278.77 367.94,279.09 368.21,279.40 368.48,279.71 368.74,280.01 369.01,280.31 369.27,280.60 369.54,280.88 369.80,281.15 370.07,281.42 370.33,281.67 370.60,281.92 370.86,282.15 371.13,282.38 371.40,282.59 371.66,282.80 371.93,282.99 372.19,283.17 372.46,283.34 372.72,283.50 372.99,283.64 373.25,283.78 373.52,283.90 373.78,284.01 374.05,284.11 374.32,284.20 374.58,284.28 374.85,284.35 375.11,284.41 375.38,284.46 375.64,284.50 375.91,284.53 376.17,284.56 376.44,284.57 376.70,284.58 376.97,284.59 377.24,284.59 377.50,284.58 377.77,284.57 378.03,284.56 378.30,284.54 378.56,284.53 378.83,284.51 379.09,284.49 379.36,284.47 379.63,284.45 379.89,284.43 380.16,284.41 380.42,284.40 380.69,284.39 380.95,284.38 381.22,284.37 381.48,284.37 381.75,284.37 382.01,284.38 382.28,284.39" fill="none" stroke="#111" stroke-width="1" stroke-linejoin="round"/>
<line x1="16.80" x2="18.50" y1="55.00" y2="55.00" stroke="#333" stroke-width="0.6"/>
<text x="15.10" y="57.20" font-size="6.1" fill="#333" text-anchor="end" font-family="Liberation Sans, Arial, sans-serif" stroke="#333" stroke-width="0.18">0.00</text>
<line x1="16.80" x2="18.50" y1="42.50" y2="42.50" stroke="#333" stroke-width="0.6"/>
<text x="15.10" y="44.70" font-size="6.1" fill="#333" text-anchor="end" font-family="Liberation Sans, Arial, sans-serif" stroke="#333" stroke-width="0.18">0.05</text>
<line x1="16.80" x2="18.50" y1="30.00" y2="30.00" stroke="#333" stroke-width="0.6"/>
<text x="15.10" y="32.20" font-size="6.1" fill="#333" text-anchor="end" font-family="Liberation Sans, Arial, sans-serif" stroke="#333" stroke-width="0.18">0.10</text>
<line x1="16.80" x2="18.50" y1="17.50" y2="17.50" stroke="#333" stroke-width="0.6"/>
<text x="15.10" y="19.70" font-size="6.1" fill="#333" text-anchor="end" font-family="Liberation Sans, Arial, sans-serif" stroke="#333" stroke-width="0.18">0.15</text>
<line x1="16.80" x2="18.50" y1="93.11" y2="93.11" stroke="#333" stroke-width="0.6"/>
<text x="15.10" y="95.31" font-size="6.1" fill="#333" text-anchor="end" font-family="Liberation Sans, Arial, sans-serif" stroke="#333" stroke-width="0.18">50</text>
<line x1="16.80" x2="18.50" y1="82.96" y2="82.96" stroke="#333" stroke-width="0.6"/>
<text x="15.10" y="85.16" font-size="6.1" fill="#333" text-anchor="end" font-family="Liberation Sans, Arial, sans-serif" stroke="#333" stroke-width="0.18">100</text>
<line x1="16.80" x2="18.50" y1="72.82" y2="72.82" stroke="#333" stroke-width="0.6"/>
<text x="15.10" y="75.02" font-size="6.1" fill="#333" text-anchor="end" font-family="Liberation Sans, Arial, sans-serif" stroke="#333" stroke-width="0.18">150</text>
<line x1="16.80" x2="18.50" y1="62.68" y2="62.68" stroke="#333" stroke-width="0.6"/>
<text x="15.10" y="64.88" font-size="6.1" fill="#333" text-anchor="end" font-family="Liberation Sans, Arial, sans-serif" stroke="#333" stroke-width="0.18">200</text>
<line x1="16.80" x2="18.50" y1="149.10" y2="149.10" stroke="#333" stroke-width="0.6"/>
<text x="15.10" y="151.30" font-size="6.1" fill="#333" text-anchor="end" font-family="Liberation Sans, Arial, sans-serif" stroke="#333" stroke-width="0.18">0</text>
<line x1="16.80" x2="18.50" y1="138.03" y2="138.03" stroke="#333" stroke-width="0.6"/>
<text x="15.10" y="140.23" font-size="6.1" fill="#333" text-anchor="end" font-family="Liberation Sans, Arial, sans-serif" stroke="#333" stroke-width="0.18">25</text>
<line x1="16.80" x2="18.50" y1="126.95" y2="126.95" stroke="#333" stroke-width="0.6"/>
<text x="15.10" y="129.15" font-size="6.1" fill="#333" text-anchor="end" font-family="Liberation Sans, Arial, sans-serif" stroke="#333" stroke-width="0.18">50</text>
<line x1="16.80" x2="18.50" y1="115.87" y2="115.87" stroke="#333" stroke-width="0.6"/>
<text x="15.10" y="118.07" font-size="6.1" fill="#333" text-anchor="end" font-family="Liberation Sans, Arial, sans-serif" stroke="#333" stroke-width="0.18">75</text>
<line x1="16.80" x2="18.50" y1="194.75" y2="194.75" stroke="#333" stroke-width="0.6"/>
<text x="15.10" y="196.95" font-size="6.1" fill="#333" text-anchor="end" font-family="Liberation Sans, Arial, sans-serif" stroke="#333" stroke-width="0.18">0</text>
<line x1="16.80" x2="18.50" y1="184.42" y2="184.42" stroke="#333" stroke-width="0.6"/>
<text x="15.10" y="186.62" font-size="6.1" fill="#333" text-anchor="end" font-family="Liberation Sans, Arial, sans-serif" stroke="#333" stroke-width="0.18">5</text>
<line x1="16.80" x2="18.50" y1="174.09" y2="174.09" stroke="#333" stroke-width="0.6"/>
<text x="15.10" y="176.29" font-size="6.1" fill="#333" text-anchor="end" font-family="Liberation Sans, Arial, sans-serif" stroke="#333" stroke-width="0.18">10</text>
<line x1="16.80" x2="18.50" y1="163.76" y2="163.76" stroke="#333" stroke-width="0.6"/>
<text x="15.10" y="165.96" font-size="6.1" fill="#333" text-anchor="end" font-family="Liberation Sans, Arial, sans-serif" stroke="#333" stroke-width="0.18">15</text>
<line x1="16.80" x2="18.50" y1="241.19" y2="241.19" stroke="#333" stroke-width="0.6"/>
<text x="15.10" y="243.39" font-size="6.1" fill="#333" text-anchor="end" font-family="Liberation Sans, Arial, sans-serif" stroke="#333" stroke-width="0.18">0.00</text>
<line x1="16.80" x2="18.50" y1="231.48" y2="231.48" stroke="#333" stroke-width="0.6"/>
<text x="15.10" y="233.68" font-size="6.1" fill="#333" text-anchor="end" font-family="Liberation Sans, Arial, sans-serif" stroke="#333" stroke-width="0.18">0.25</text>
<line x1="16.80" x2="18.50" y1="221.76" y2="221.76" stroke="#333" stroke-width="0.6"/>
<text x="15.10" y="223.96" font-size="6.1" fill="#333" text-anchor="end" font-family="Liberation Sans, Arial, sans-serif" stroke="#333" stroke-width="0.18">0.50</text>
<line x1="16.80" x2="18.50" y1="212.04" y2="212.04" stroke="#333" stroke-width="0.6"/>
<text x="15.10" y="214.24" font-size="6.1" fill="#333" text-anchor="end" font-family="Liberation Sans, Arial, sans-serif" stroke="#333" stroke-width="0.18">0.75</text>
<line x1="16.80" x2="18.50" y1="202.33" y2="202.33" stroke="#333" stroke-width="0.6"/>
<text x="15.10" y="204.53" font-size="6.1" fill="#333" text-anchor="end" font-family="Liberation Sans, Arial, sans-serif" stroke="#333" stroke-width="0.18">1.00</text>
<line x1="16.80" x2="18.50" y1="287.42" y2="287.42" stroke="#333" stroke-width="0.6"/>
<text x="15.10" y="289.62" font-size="6.1" fill="#333" text-anchor="end" font-family="Liberation Sans, Arial, sans-serif" stroke="#333" stroke-width="0.18">24</text>
<line x1="16.80" x2="18.50" y1="278.86" y2="278.86" stroke="#333" stroke-width="0.6"/>
<text x="15.10" y="281.06" font-size="6.1" fill="#333" text-anchor="end" font-family="Liberation Sans, Arial, sans-serif" stroke="#333" stroke-width="0.18">26</text>
<line x1="16.80" x2="18.50" y1="270.29" y2="270.29" stroke="#333" stroke-width="0.6"/>
<text x="15.10" y="272.49" font-size="6.1" fill="#333" text-anchor="end" font-family="Liberation Sans, Arial, sans-serif" stroke="#333" stroke-width="0.18">28</text>
<line x1="16.80" x2="18.50" y1="261.73" y2="261.73" stroke="#333" stroke-width="0.6"/>
<text x="15.10" y="263.93" font-size="6.1" fill="#333" text-anchor="end" font-family="Liberation Sans, Arial, sans-serif" stroke="#333" stroke-width="0.18">30</text>
<line x1="16.80" x2="18.50" y1="253.16" y2="253.16" stroke="#333" stroke-width="0.6"/>
<text x="15.10" y="255.36" font-size="6.1" fill="#333" text-anchor="end" font-family="Liberation Sans, Arial, sans-serif" stroke="#333" stroke-width="0.18">32</text>
<line x1="23.22" x2="23.22" y1="289.35" y2="291.05" stroke="#333" stroke-width="0.6"/>
<text x="23.22" y="296.65" font-size="6.1" fill="#333" text-anchor="middle" font-family="Liberation Sans, Arial, sans-serif" stroke="#333" stroke-width="0.18">10</text>
<line x1="37.12" x2="37.12" y1="289.35" y2="291.05" stroke="#333" stroke-width="0.6"/>
<text x="37.12" y="296.65" font-size="6.1" fill="#333" text-anchor="middle" font-family="Liberation Sans, Arial, sans-serif" stroke="#333" stroke-width="0.18">12</text>
<line x1="51.02" x2="51.02" y1="289.35" y2="291.05" stroke="#333" stroke-width="0.6"/>
<text x="51.02" y="296.65" font-size="6.1" fill="#333" text-anchor="middle" font-family="Liberation Sans, Arial, sans-serif" stroke="#333" stroke-width="0.18">14</text>
<line x1="64.91" x2="64.91" y1="289.35" y2="291.05" stroke="#333" stroke-width="0.6"/>
<text x="64.91" y="296.65" font-size="6.1" fill="#333" text-anchor="middle" font-family="Liberation Sans, Arial, sans-serif" stroke="#333" stroke-width="0.18">16</text>
<line x1="94.35" x2="94.35" y1="289.35" y2="291.05" stroke="#333" stroke-width="0.6"/>
<text x="94.35" y="296.65" font-size="6.1" fill="#333" text-anchor="middle" font-family="Liberation Sans, Arial, sans-serif" stroke="#333" stroke-width="0.18">50</text>
<line x1="108.13" x2="108.13" y1="289.35" y2="291.05" stroke="#333" stroke-width="0.6"/>
<text x="108.13" y="296.65" font-size="6.1" fill="#333" text-anchor="middle" font-family="Liberation Sans, Arial, sans-serif" stroke="#333" stroke-width="0.18">100</text>
<line x1="121.91" x2="121.91" y1="289.35" y2="291.05" stroke="#333" stroke-width="0.6"/>
<text x="121.91" y="296.65" font-size="6.1" fill="#333" text-anchor="middle" font-family="Liberation Sans, Arial, sans-serif" stroke="#333" stroke-width="0.18">150</text>
<line x1="135.69" x2="135.69" y1="289.35" y2="291.05" stroke="#333" stroke-width="0.6"/>
<text x="135.69" y="296.65" font-size="6.1" fill="#333" text-anchor="middle" font-family="Liberation Sans, Arial, sans-serif" stroke="#333" stroke-width="0.18">200</text>
<line x1="143.27" x2="143.27" y1="289.35" y2="291.05" stroke="#333" stroke-width="0.6"/>
<text x="143.27" y="296.65" font-size="6.1" fill="#333" text-anchor="middle" font-family="Liberation Sans, Arial, sans-serif" stroke="#333" stroke-width="0.18">0</text>
<line x1="158.32" x2="158.32" y1="289.35" y2="291.05" stroke="#333" stroke-width="0.6"/>
<text x="158.32" y="296.65" font-size="6.1" fill="#333" text-anchor="middle" font-family="Liberation Sans, Arial, sans-serif" stroke="#333" stroke-width="0.18">25</text>
<line x1="173.37" x2="173.37" y1="289.35" y2="291.05" stroke="#333" stroke-width="0.6"/>
<text x="173.37" y="296.65" font-size="6.1" fill="#333" text-anchor="middle" font-family="Liberation Sans, Arial, sans-serif" stroke="#333" stroke-width="0.18">50</text>
<line x1="188.41" x2="188.41" y1="289.35" y2="291.05" stroke="#333" stroke-width="0.6"/>
<text x="188.41" y="296.65" font-size="6.1" fill="#333" text-anchor="middle" font-family="Liberation Sans, Arial, sans-serif" stroke="#333" stroke-width="0.18">75</text>
<line x1="206.39" x2="206.39" y1="289.35" y2="291.05" stroke="#333" stroke-width="0.6"/>
<text x="206.39" y="296.65" font-size="6.1" fill="#333" text-anchor="middle" font-family="Liberation Sans, Arial, sans-serif" stroke="#333" stroke-width="0.18">0</text>
<line x1="220.27" x2="220.27" y1="289.35" y2="291.05" stroke="#333" stroke-width="0.6"/>
<text x="220.27" y="296.65" font-size="6.1" fill="#333" text-anchor="middle" font-family="Liberation Sans, Arial, sans-serif" stroke="#333" stroke-width="0.18">5</text>
<line x1="234.15" x2="234.15" y1="289.35" y2="291.05" stroke="#333" stroke-width="0.6"/>
<text x="234.15" y="296.65" font-size="6.1" fill="#333" text-anchor="middle" font-family="Liberation Sans, Arial, sans-serif" stroke="#333" stroke-width="0.18">10</text>
<line x1="248.03" x2="248.03" y1="289.35" y2="291.05" stroke="#333" stroke-width="0.6"/>
<text x="248.03" y="296.65" font-size="6.1" fill="#333" text-anchor="middle" font-family="Liberation Sans, Arial, sans-serif" stroke="#333" stroke-width="0.18">15</text>
<line x1="268.12" x2="268.12" y1="289.35" y2="291.05" stroke="#333" stroke-width="0.6"/>
<text x="268.12" y="296.65" font-size="6.1" fill="#333" text-anchor="middle" font-family="Liberation Sans, Arial, sans-serif" stroke="#333" stroke-width="0.18">0.00</text>
<line x1="281.21" x2="281.21" y1="289.35" y2="291.05" stroke="#333" stroke-width="0.6"/>
<text x="281.21" y="296.65" font-size="6.1" fill="#333" text-anchor="middle" font-family="Liberation Sans, Arial, sans-serif" stroke="#333" stroke-width="0.18">0.25</text>
<line x1="294.30" x2="294.30" y1="289.35" y2="291.05" stroke="#333" stroke-width="0.6"/>
<text x="294.30" y="296.65" font-size="6.1" fill="#333" text-anchor="middle" font-family="Liberation Sans, Arial, sans-serif" stroke="#333" stroke-width="0.18">0.50</text>
<line x1="307.39" x2="307.39" y1="289.35" y2="291.05" stroke="#333" stroke-width="0.6"/>
<text x="307.39" y="296.65" font-size="6.1" fill="#333" text-anchor="middle" font-family="Liberation Sans, Arial, sans-serif" stroke="#333" stroke-width="0.18">0.75</text>
<line x1="320.48" x2="320.48" y1="289.35" y2="291.05" stroke="#333" stroke-width="0.6"/>
<text x="320.48" y="296.65" font-size="6.1" fill="#333" text-anchor="middle" font-family="Liberation Sans, Arial, sans-serif" stroke="#333" stroke-width="0.18">1.00</text>
<line x1="329.45" x2="329.45" y1="289.35" y2="291.05" stroke="#333" stroke-width="0.6"/>
<text x="329.45" y="296.65" font-size="6.1" fill="#333" text-anchor="middle" font-family="Liberation Sans, Arial, sans-serif" stroke="#333" stroke-width="0.18">24</text>
<line x1="341.19" x2="341.19" y1="289.35" y2="291.05" stroke="#333" stroke-width="0.6"/>
<text x="341.19" y="296.65" font-size="6.1" fill="#333" text-anchor="middle" font-family="Liberation Sans, Arial, sans-serif" stroke="#333" stroke-width="0.18">26</text>
<line x1="352.93" x2="352.93" y1="289.35" y2="291.05" stroke="#333" stroke-width="0.6"/>
<text x="352.93" y="296.65" font-size="6.1" fill="#333" text-anchor="middle" font-family="Liberation Sans, Arial, sans-serif" stroke="#333" stroke-width="0.18">28</text>
<line x1="364.67" x2="364.67" y1="289.35" y2="291.05" stroke="#333" stroke-width="0.6"/>
<text x="364.67" y="296.65" font-size="6.1" fill="#333" text-anchor="middle" font-family="Liberation Sans, Arial, sans-serif" stroke="#333" stroke-width="0.18">30</text>
<line x1="376.41" x2="376.41" y1="289.35" y2="291.05" stroke="#333" stroke-width="0.6"/>
<text x="376.41" y="296.65" font-size="6.1" fill="#333" text-anchor="middle" font-family="Liberation Sans, Arial, sans-serif" stroke="#333" stroke-width="0.18">32</text>
</svg>
</body></html>
